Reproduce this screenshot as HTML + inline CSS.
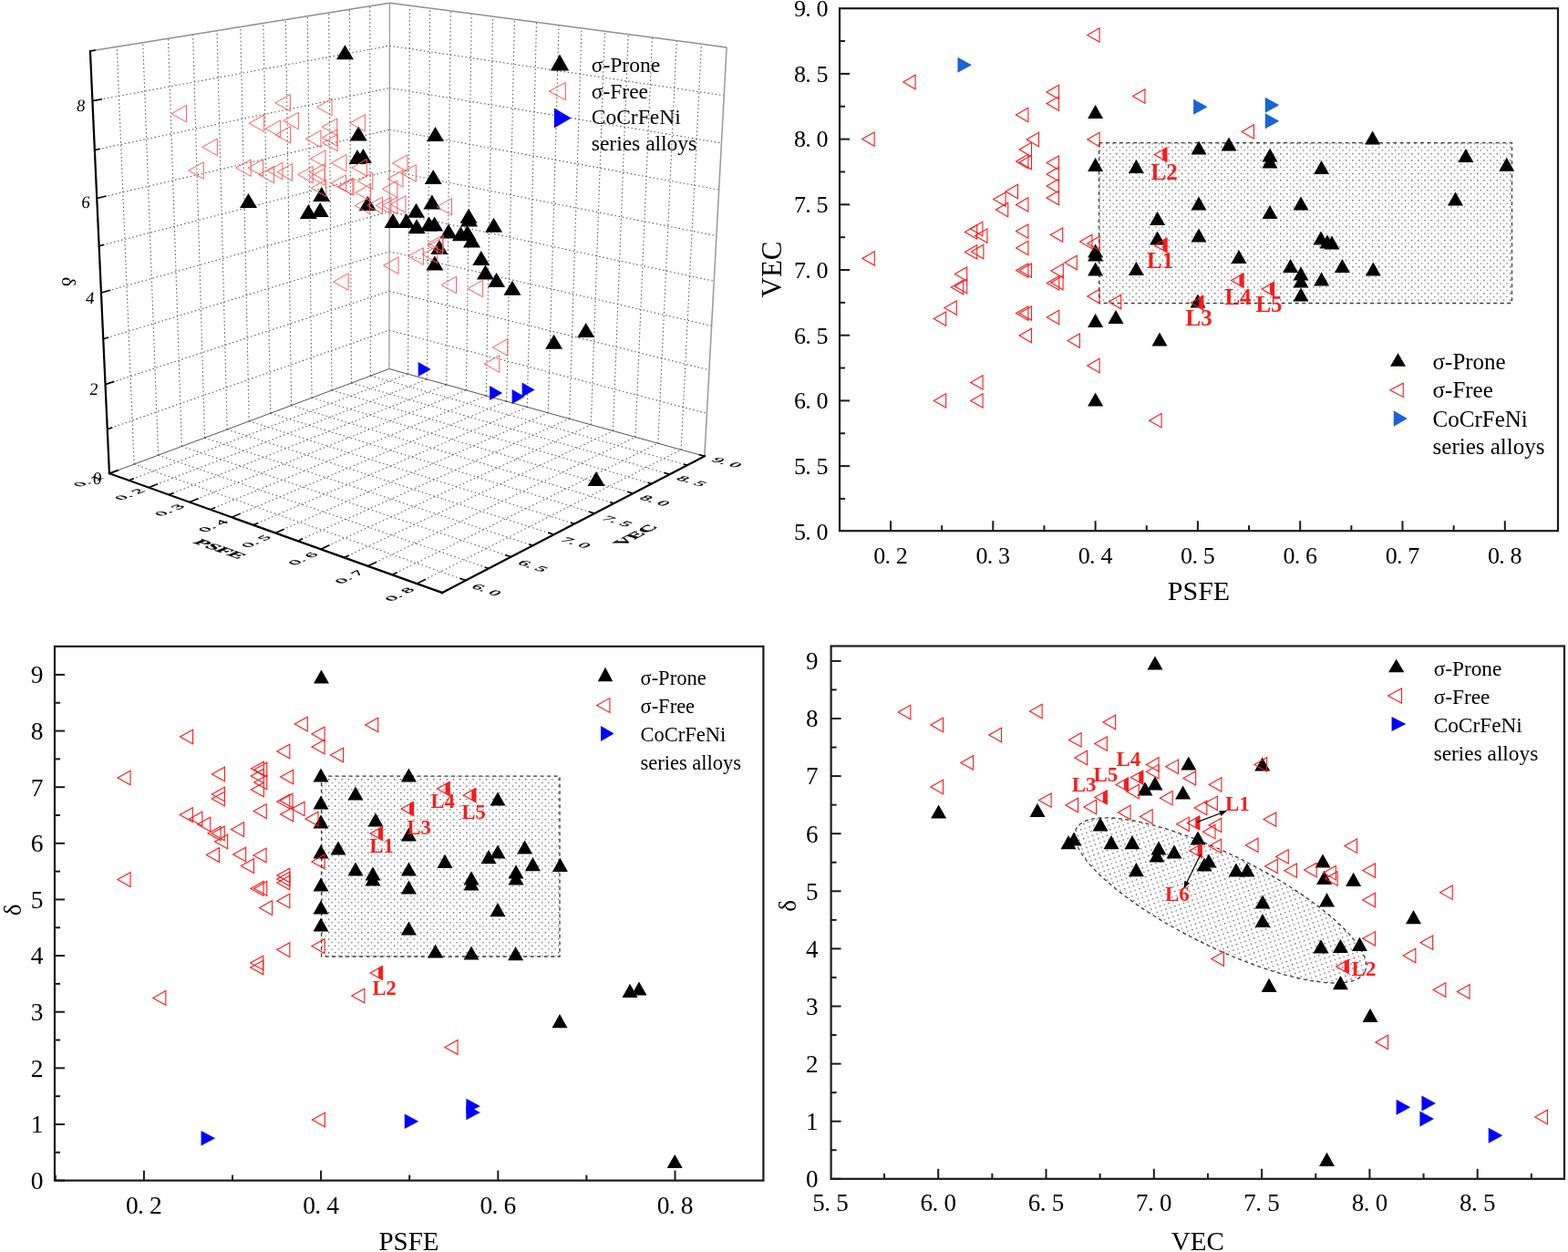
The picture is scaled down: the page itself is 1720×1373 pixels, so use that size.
<!DOCTYPE html>
<html><head><meta charset="utf-8"><title>PSFE VEC delta scatter</title>
<style>html,body{margin:0;padding:0;background:#fff;overflow:hidden;}svg{display:block;}</style>
</head><body><svg width="1720" height="1373" viewBox="0 0 1720 1373"><defs><pattern id="dots" patternUnits="userSpaceOnUse" width="7.2" height="7.3"><rect x="0" y="0" width="1.35" height="1.35" fill="#505050"/><rect x="3.6" y="3.65" width="1.35" height="1.35" fill="#707070"/></pattern><marker id="ah" viewBox="0 0 10 10" refX="9" refY="5" markerWidth="12" markerHeight="8" markerUnits="userSpaceOnUse" orient="auto"><path d="M0 1L10 5L0 9Z" fill="#000"/></marker></defs><rect x="0" y="0" width="1720" height="1373" fill="#fff"/><g><line x1="141.34" y1="526.86" x2="447.58" y2="410.24" stroke="#606060" stroke-width="1.1" stroke-dasharray="1.5 2.9" stroke-linecap="butt"/><line x1="163.09" y1="534.65" x2="468.54" y2="416.04" stroke="#606060" stroke-width="1.1" stroke-dasharray="1.5 2.9" stroke-linecap="butt"/><line x1="185.23" y1="542.58" x2="489.82" y2="421.94" stroke="#606060" stroke-width="1.1" stroke-dasharray="1.5 2.9" stroke-linecap="butt"/><line x1="207.76" y1="550.65" x2="511.43" y2="427.92" stroke="#606060" stroke-width="1.1" stroke-dasharray="1.5 2.9" stroke-linecap="butt"/><line x1="230.7" y1="558.86" x2="533.36" y2="434" stroke="#606060" stroke-width="1.1" stroke-dasharray="1.5 2.9" stroke-linecap="butt"/><line x1="254.06" y1="567.23" x2="555.64" y2="440.17" stroke="#606060" stroke-width="1.1" stroke-dasharray="1.5 2.9" stroke-linecap="butt"/><line x1="277.84" y1="575.75" x2="578.27" y2="446.43" stroke="#606060" stroke-width="1.1" stroke-dasharray="1.5 2.9" stroke-linecap="butt"/><line x1="302.07" y1="584.42" x2="601.25" y2="452.8" stroke="#606060" stroke-width="1.1" stroke-dasharray="1.5 2.9" stroke-linecap="butt"/><line x1="326.75" y1="593.26" x2="624.6" y2="459.26" stroke="#606060" stroke-width="1.1" stroke-dasharray="1.5 2.9" stroke-linecap="butt"/><line x1="351.89" y1="602.27" x2="648.32" y2="465.83" stroke="#606060" stroke-width="1.1" stroke-dasharray="1.5 2.9" stroke-linecap="butt"/><line x1="377.51" y1="611.45" x2="672.42" y2="472.51" stroke="#606060" stroke-width="1.1" stroke-dasharray="1.5 2.9" stroke-linecap="butt"/><line x1="403.63" y1="620.8" x2="696.92" y2="479.29" stroke="#606060" stroke-width="1.1" stroke-dasharray="1.5 2.9" stroke-linecap="butt"/><line x1="430.25" y1="630.33" x2="721.81" y2="486.19" stroke="#606060" stroke-width="1.1" stroke-dasharray="1.5 2.9" stroke-linecap="butt"/><line x1="457.39" y1="640.05" x2="747.12" y2="493.2" stroke="#606060" stroke-width="1.1" stroke-dasharray="1.5 2.9" stroke-linecap="butt"/><line x1="147.08" y1="509.07" x2="510.98" y2="636.5" stroke="#606060" stroke-width="1.1" stroke-dasharray="1.5 2.9" stroke-linecap="butt"/><line x1="173.54" y1="499.18" x2="536.17" y2="623.4" stroke="#606060" stroke-width="1.1" stroke-dasharray="1.5 2.9" stroke-linecap="butt"/><line x1="199.36" y1="489.54" x2="560.65" y2="610.67" stroke="#606060" stroke-width="1.1" stroke-dasharray="1.5 2.9" stroke-linecap="butt"/><line x1="224.56" y1="480.12" x2="584.47" y2="598.28" stroke="#606060" stroke-width="1.1" stroke-dasharray="1.5 2.9" stroke-linecap="butt"/><line x1="249.17" y1="470.93" x2="607.66" y2="586.23" stroke="#606060" stroke-width="1.1" stroke-dasharray="1.5 2.9" stroke-linecap="butt"/><line x1="273.2" y1="461.95" x2="630.22" y2="574.49" stroke="#606060" stroke-width="1.1" stroke-dasharray="1.5 2.9" stroke-linecap="butt"/><line x1="296.68" y1="453.18" x2="652.2" y2="563.07" stroke="#606060" stroke-width="1.1" stroke-dasharray="1.5 2.9" stroke-linecap="butt"/><line x1="319.63" y1="444.6" x2="673.6" y2="551.93" stroke="#606060" stroke-width="1.1" stroke-dasharray="1.5 2.9" stroke-linecap="butt"/><line x1="342.06" y1="436.23" x2="694.47" y2="541.09" stroke="#606060" stroke-width="1.1" stroke-dasharray="1.5 2.9" stroke-linecap="butt"/><line x1="363.98" y1="428.03" x2="714.8" y2="530.51" stroke="#606060" stroke-width="1.1" stroke-dasharray="1.5 2.9" stroke-linecap="butt"/><line x1="385.43" y1="420.02" x2="734.63" y2="520.2" stroke="#606060" stroke-width="1.1" stroke-dasharray="1.5 2.9" stroke-linecap="butt"/><line x1="406.4" y1="412.19" x2="753.98" y2="510.14" stroke="#606060" stroke-width="1.1" stroke-dasharray="1.5 2.9" stroke-linecap="butt"/><line x1="147.08" y1="509.07" x2="128.22" y2="51.26" stroke="#5a5a5a" stroke-width="1.1" stroke-dasharray="1.5 2.7" stroke-linecap="butt"/><line x1="173.54" y1="499.18" x2="156.74" y2="46.68" stroke="#5a5a5a" stroke-width="1.1" stroke-dasharray="1.5 2.7" stroke-linecap="butt"/><line x1="199.36" y1="489.54" x2="184.53" y2="42.22" stroke="#5a5a5a" stroke-width="1.1" stroke-dasharray="1.5 2.7" stroke-linecap="butt"/><line x1="224.56" y1="480.12" x2="211.62" y2="37.87" stroke="#5a5a5a" stroke-width="1.1" stroke-dasharray="1.5 2.7" stroke-linecap="butt"/><line x1="249.17" y1="470.93" x2="238.02" y2="33.64" stroke="#5a5a5a" stroke-width="1.1" stroke-dasharray="1.5 2.7" stroke-linecap="butt"/><line x1="273.2" y1="461.95" x2="263.76" y2="29.5" stroke="#5a5a5a" stroke-width="1.1" stroke-dasharray="1.5 2.7" stroke-linecap="butt"/><line x1="296.68" y1="453.18" x2="288.87" y2="25.47" stroke="#5a5a5a" stroke-width="1.1" stroke-dasharray="1.5 2.7" stroke-linecap="butt"/><line x1="319.63" y1="444.6" x2="313.38" y2="21.54" stroke="#5a5a5a" stroke-width="1.1" stroke-dasharray="1.5 2.7" stroke-linecap="butt"/><line x1="342.06" y1="436.23" x2="337.29" y2="17.7" stroke="#5a5a5a" stroke-width="1.1" stroke-dasharray="1.5 2.7" stroke-linecap="butt"/><line x1="363.98" y1="428.03" x2="360.64" y2="13.95" stroke="#5a5a5a" stroke-width="1.1" stroke-dasharray="1.5 2.7" stroke-linecap="butt"/><line x1="385.43" y1="420.02" x2="383.45" y2="10.29" stroke="#5a5a5a" stroke-width="1.1" stroke-dasharray="1.5 2.7" stroke-linecap="butt"/><line x1="406.4" y1="412.19" x2="405.72" y2="6.72" stroke="#5a5a5a" stroke-width="1.1" stroke-dasharray="1.5 2.7" stroke-linecap="butt"/><line x1="117.76" y1="470.77" x2="426.99" y2="362.19" stroke="#5a5a5a" stroke-width="1.1" stroke-dasharray="1.5 2.7" stroke-linecap="butt"/><line x1="115.53" y1="421.62" x2="427.05" y2="319.33" stroke="#5a5a5a" stroke-width="1.1" stroke-dasharray="1.5 2.7" stroke-linecap="butt"/><line x1="113.26" y1="371.73" x2="427.11" y2="275.91" stroke="#5a5a5a" stroke-width="1.1" stroke-dasharray="1.5 2.7" stroke-linecap="butt"/><line x1="110.96" y1="321.09" x2="427.17" y2="231.93" stroke="#5a5a5a" stroke-width="1.1" stroke-dasharray="1.5 2.7" stroke-linecap="butt"/><line x1="108.63" y1="269.68" x2="427.23" y2="187.38" stroke="#5a5a5a" stroke-width="1.1" stroke-dasharray="1.5 2.7" stroke-linecap="butt"/><line x1="106.26" y1="217.48" x2="427.3" y2="142.25" stroke="#5a5a5a" stroke-width="1.1" stroke-dasharray="1.5 2.7" stroke-linecap="butt"/><line x1="103.85" y1="164.47" x2="427.36" y2="96.52" stroke="#5a5a5a" stroke-width="1.1" stroke-dasharray="1.5 2.7" stroke-linecap="butt"/><line x1="101.41" y1="110.64" x2="427.43" y2="50.18" stroke="#5a5a5a" stroke-width="1.1" stroke-dasharray="1.5 2.7" stroke-linecap="butt"/><line x1="447.58" y1="410.24" x2="449.4" y2="6.11" stroke="#5a5a5a" stroke-width="1.1" stroke-dasharray="1.5 2.7" stroke-linecap="butt"/><line x1="468.54" y1="416.04" x2="471.66" y2="9.05" stroke="#5a5a5a" stroke-width="1.1" stroke-dasharray="1.5 2.7" stroke-linecap="butt"/><line x1="489.82" y1="421.94" x2="494.27" y2="12.03" stroke="#5a5a5a" stroke-width="1.1" stroke-dasharray="1.5 2.7" stroke-linecap="butt"/><line x1="511.43" y1="427.92" x2="517.26" y2="15.06" stroke="#5a5a5a" stroke-width="1.1" stroke-dasharray="1.5 2.7" stroke-linecap="butt"/><line x1="533.36" y1="434" x2="540.61" y2="18.14" stroke="#5a5a5a" stroke-width="1.1" stroke-dasharray="1.5 2.7" stroke-linecap="butt"/><line x1="555.64" y1="440.17" x2="564.36" y2="21.27" stroke="#5a5a5a" stroke-width="1.1" stroke-dasharray="1.5 2.7" stroke-linecap="butt"/><line x1="578.27" y1="446.43" x2="588.5" y2="24.45" stroke="#5a5a5a" stroke-width="1.1" stroke-dasharray="1.5 2.7" stroke-linecap="butt"/><line x1="601.25" y1="452.8" x2="613.04" y2="27.69" stroke="#5a5a5a" stroke-width="1.1" stroke-dasharray="1.5 2.7" stroke-linecap="butt"/><line x1="624.6" y1="459.26" x2="638" y2="30.98" stroke="#5a5a5a" stroke-width="1.1" stroke-dasharray="1.5 2.7" stroke-linecap="butt"/><line x1="648.32" y1="465.83" x2="663.38" y2="34.33" stroke="#5a5a5a" stroke-width="1.1" stroke-dasharray="1.5 2.7" stroke-linecap="butt"/><line x1="672.42" y1="472.51" x2="689.2" y2="37.73" stroke="#5a5a5a" stroke-width="1.1" stroke-dasharray="1.5 2.7" stroke-linecap="butt"/><line x1="696.92" y1="479.29" x2="715.47" y2="41.2" stroke="#5a5a5a" stroke-width="1.1" stroke-dasharray="1.5 2.7" stroke-linecap="butt"/><line x1="721.81" y1="486.19" x2="742.2" y2="44.72" stroke="#5a5a5a" stroke-width="1.1" stroke-dasharray="1.5 2.7" stroke-linecap="butt"/><line x1="747.12" y1="493.2" x2="769.4" y2="48.31" stroke="#5a5a5a" stroke-width="1.1" stroke-dasharray="1.5 2.7" stroke-linecap="butt"/><line x1="426.99" y1="362.19" x2="775.39" y2="453.35" stroke="#5a5a5a" stroke-width="1.1" stroke-dasharray="1.5 2.7" stroke-linecap="butt"/><line x1="427.05" y1="319.33" x2="777.97" y2="405.71" stroke="#5a5a5a" stroke-width="1.1" stroke-dasharray="1.5 2.7" stroke-linecap="butt"/><line x1="427.11" y1="275.91" x2="780.58" y2="357.37" stroke="#5a5a5a" stroke-width="1.1" stroke-dasharray="1.5 2.7" stroke-linecap="butt"/><line x1="427.17" y1="231.93" x2="783.23" y2="308.33" stroke="#5a5a5a" stroke-width="1.1" stroke-dasharray="1.5 2.7" stroke-linecap="butt"/><line x1="427.23" y1="187.38" x2="785.92" y2="258.56" stroke="#5a5a5a" stroke-width="1.1" stroke-dasharray="1.5 2.7" stroke-linecap="butt"/><line x1="427.3" y1="142.25" x2="788.65" y2="208.06" stroke="#5a5a5a" stroke-width="1.1" stroke-dasharray="1.5 2.7" stroke-linecap="butt"/><line x1="427.36" y1="96.52" x2="791.42" y2="156.8" stroke="#5a5a5a" stroke-width="1.1" stroke-dasharray="1.5 2.7" stroke-linecap="butt"/><line x1="427.43" y1="50.18" x2="794.23" y2="104.77" stroke="#5a5a5a" stroke-width="1.1" stroke-dasharray="1.5 2.7" stroke-linecap="butt"/></g><g><line x1="426.93" y1="404.52" x2="427.49" y2="3.22" stroke="#9a9a9a" stroke-width="1.3" stroke-linecap="butt"/><line x1="98.93" y1="55.96" x2="427.49" y2="3.22" stroke="#8f8f8f" stroke-width="1.4" stroke-linecap="butt"/><line x1="427.49" y1="3.22" x2="797.08" y2="51.96" stroke="#8f8f8f" stroke-width="1.5" stroke-linecap="butt"/><line x1="772.85" y1="500.32" x2="797.08" y2="51.96" stroke="#999" stroke-width="1.5" stroke-linecap="butt"/><line x1="119.96" y1="519.2" x2="426.93" y2="404.52" stroke="#555" stroke-width="1" stroke-linecap="butt"/><line x1="426.93" y1="404.52" x2="772.85" y2="500.32" stroke="#555" stroke-width="1" stroke-linecap="butt"/><line x1="119.96" y1="519.2" x2="485.08" y2="649.97" stroke="#000" stroke-width="2.2" stroke-linecap="square"/><line x1="485.08" y1="649.97" x2="772.85" y2="500.32" stroke="#000" stroke-width="2.2" stroke-linecap="square"/><line x1="119.96" y1="519.2" x2="98.93" y2="55.96" stroke="#000" stroke-width="2.2" stroke-linecap="square"/><line x1="119.96" y1="519.2" x2="129.8" y2="515.52" stroke="#000" stroke-width="1.6" stroke-linecap="butt"/><line x1="141.34" y1="526.86" x2="146.81" y2="524.77" stroke="#000" stroke-width="1.6" stroke-linecap="butt"/><line x1="163.09" y1="534.65" x2="172.91" y2="530.84" stroke="#000" stroke-width="1.6" stroke-linecap="butt"/><line x1="185.23" y1="542.58" x2="190.68" y2="540.42" stroke="#000" stroke-width="1.6" stroke-linecap="butt"/><line x1="207.76" y1="550.65" x2="217.55" y2="546.69" stroke="#000" stroke-width="1.6" stroke-linecap="butt"/><line x1="230.7" y1="558.86" x2="236.14" y2="556.62" stroke="#000" stroke-width="1.6" stroke-linecap="butt"/><line x1="254.06" y1="567.23" x2="263.8" y2="563.12" stroke="#000" stroke-width="1.6" stroke-linecap="butt"/><line x1="277.84" y1="575.75" x2="283.25" y2="573.42" stroke="#000" stroke-width="1.6" stroke-linecap="butt"/><line x1="302.07" y1="584.42" x2="311.76" y2="580.16" stroke="#000" stroke-width="1.6" stroke-linecap="butt"/><line x1="326.75" y1="593.26" x2="332.13" y2="590.84" stroke="#000" stroke-width="1.6" stroke-linecap="butt"/><line x1="351.89" y1="602.27" x2="361.52" y2="597.84" stroke="#000" stroke-width="1.6" stroke-linecap="butt"/><line x1="377.51" y1="611.45" x2="382.85" y2="608.93" stroke="#000" stroke-width="1.6" stroke-linecap="butt"/><line x1="403.63" y1="620.8" x2="413.18" y2="616.19" stroke="#000" stroke-width="1.6" stroke-linecap="butt"/><line x1="430.25" y1="630.33" x2="435.55" y2="627.72" stroke="#000" stroke-width="1.6" stroke-linecap="butt"/><line x1="457.39" y1="640.05" x2="466.86" y2="635.26" stroke="#000" stroke-width="1.6" stroke-linecap="butt"/><line x1="485.08" y1="649.97" x2="490.32" y2="647.24" stroke="#000" stroke-width="1.6" stroke-linecap="butt"/><line x1="485.08" y1="649.97" x2="480.61" y2="648.37" stroke="#000" stroke-width="1.6" stroke-linecap="butt"/><line x1="510.98" y1="636.5" x2="504.32" y2="634.16" stroke="#000" stroke-width="1.6" stroke-linecap="butt"/><line x1="536.17" y1="623.4" x2="531.75" y2="621.89" stroke="#000" stroke-width="1.6" stroke-linecap="butt"/><line x1="560.65" y1="610.67" x2="554.07" y2="608.46" stroke="#000" stroke-width="1.6" stroke-linecap="butt"/><line x1="584.47" y1="598.28" x2="580.1" y2="596.85" stroke="#000" stroke-width="1.6" stroke-linecap="butt"/><line x1="607.66" y1="586.23" x2="601.14" y2="584.13" stroke="#000" stroke-width="1.6" stroke-linecap="butt"/><line x1="630.22" y1="574.49" x2="625.9" y2="573.13" stroke="#000" stroke-width="1.6" stroke-linecap="butt"/><line x1="652.2" y1="563.07" x2="645.76" y2="561.07" stroke="#000" stroke-width="1.6" stroke-linecap="butt"/><line x1="673.6" y1="551.93" x2="669.33" y2="550.64" stroke="#000" stroke-width="1.6" stroke-linecap="butt"/><line x1="694.47" y1="541.09" x2="688.1" y2="539.19" stroke="#000" stroke-width="1.6" stroke-linecap="butt"/><line x1="714.8" y1="530.51" x2="710.58" y2="529.28" stroke="#000" stroke-width="1.6" stroke-linecap="butt"/><line x1="734.63" y1="520.2" x2="728.34" y2="518.39" stroke="#000" stroke-width="1.6" stroke-linecap="butt"/><line x1="753.98" y1="510.14" x2="749.81" y2="508.96" stroke="#000" stroke-width="1.6" stroke-linecap="butt"/><line x1="772.85" y1="500.32" x2="766.64" y2="498.6" stroke="#000" stroke-width="1.6" stroke-linecap="butt"/><line x1="119.96" y1="519.2" x2="129.8" y2="515.52" stroke="#000" stroke-width="1.6" stroke-linecap="butt"/><line x1="117.76" y1="470.77" x2="123.28" y2="468.83" stroke="#000" stroke-width="1.6" stroke-linecap="butt"/><line x1="115.53" y1="421.62" x2="125.53" y2="418.33" stroke="#000" stroke-width="1.6" stroke-linecap="butt"/><line x1="113.26" y1="371.73" x2="118.88" y2="370.02" stroke="#000" stroke-width="1.6" stroke-linecap="butt"/><line x1="110.96" y1="321.09" x2="121.14" y2="318.22" stroke="#000" stroke-width="1.6" stroke-linecap="butt"/><line x1="108.63" y1="269.68" x2="114.34" y2="268.2" stroke="#000" stroke-width="1.6" stroke-linecap="butt"/><line x1="106.26" y1="217.48" x2="116.62" y2="215.05" stroke="#000" stroke-width="1.6" stroke-linecap="butt"/><line x1="103.85" y1="164.47" x2="109.67" y2="163.25" stroke="#000" stroke-width="1.6" stroke-linecap="butt"/><line x1="101.41" y1="110.64" x2="111.95" y2="108.69" stroke="#000" stroke-width="1.6" stroke-linecap="butt"/><line x1="98.93" y1="55.96" x2="104.85" y2="55.01" stroke="#000" stroke-width="1.6" stroke-linecap="butt"/></g><g><text transform="matrix(0.9322 -0.3620 0.6402 0.2293 146.87 543.56)" x="-15.02 -5.26 4.49" y="0" font-family="'Liberation Serif','Times New Roman',serif" font-size="19.5" font-weight="normal" text-anchor="start" fill="#000" stroke="#000" stroke-width="0.5">0.2</text><text transform="matrix(0.9271 -0.3747 0.6402 0.2293 190.37 560.86)" x="-15.02 -5.26 4.49" y="0" font-family="'Liberation Serif','Times New Roman',serif" font-size="19.5" font-weight="normal" text-anchor="start" fill="#000" stroke="#000" stroke-width="0.5">0.3</text><text transform="matrix(0.9215 -0.3883 0.6402 0.2293 238.37 578.06)" x="-15.02 -5.26 4.49" y="0" font-family="'Liberation Serif','Times New Roman',serif" font-size="19.5" font-weight="normal" text-anchor="start" fill="#000" stroke="#000" stroke-width="0.5">0.4</text><text transform="matrix(0.9153 -0.4027 0.6402 0.2293 285.37 595.06)" x="-15.02 -5.26 4.49" y="0" font-family="'Liberation Serif','Times New Roman',serif" font-size="19.5" font-weight="normal" text-anchor="start" fill="#000" stroke="#000" stroke-width="0.5">0.5</text><text transform="matrix(0.9084 -0.4181 0.6402 0.2293 336.87 614.06)" x="-15.02 -5.26 4.49" y="0" font-family="'Liberation Serif','Times New Roman',serif" font-size="19.5" font-weight="normal" text-anchor="start" fill="#000" stroke="#000" stroke-width="0.5">0.6</text><text transform="matrix(0.9006 -0.4345 0.6402 0.2293 387.67 634.06)" x="-15.02 -5.26 4.49" y="0" font-family="'Liberation Serif','Times New Roman',serif" font-size="19.5" font-weight="normal" text-anchor="start" fill="#000" stroke="#000" stroke-width="0.5">0.7</text><text transform="matrix(0.8920 -0.4521 0.6402 0.2293 442.67 653.06)" x="-15.02 -5.26 4.49" y="0" font-family="'Liberation Serif','Times New Roman',serif" font-size="19.5" font-weight="normal" text-anchor="start" fill="#000" stroke="#000" stroke-width="0.5">0.8</text><text transform="matrix(0.9368 -0.3500 0.6402 0.2293 101.37 529.06)" x="-15.02 -5.26 4.49" y="0" font-family="'Liberation Serif','Times New Roman',serif" font-size="19.5" font-weight="normal" text-anchor="start" fill="#000" stroke="#000" stroke-width="0.5">0.1</text><text transform="matrix(0.9414 0.3372 -0.6933 0.2860 236.27 603.98)" x="0" y="0" font-family="'Liberation Serif','Times New Roman',serif" font-size="22" font-weight="bold" text-anchor="middle" fill="#000" stroke="#000" stroke-width="0.5">PSFE</text><text transform="matrix(0.9438 0.3305 -0.6033 0.3137 530.18 649.04)" x="-15.02 -5.26 4.49" y="0" font-family="'Liberation Serif','Times New Roman',serif" font-size="19.5" font-weight="normal" text-anchor="start" fill="#000" stroke="#000" stroke-width="0.5">6.0</text><text transform="matrix(0.9481 0.3179 -0.6033 0.3137 581.08 622.84)" x="-15.02 -5.26 4.49" y="0" font-family="'Liberation Serif','Times New Roman',serif" font-size="19.5" font-weight="normal" text-anchor="start" fill="#000" stroke="#000" stroke-width="0.5">6.5</text><text transform="matrix(0.9520 0.3062 -0.6033 0.3137 628.18 597.24)" x="-15.02 -5.26 4.49" y="0" font-family="'Liberation Serif','Times New Roman',serif" font-size="19.5" font-weight="normal" text-anchor="start" fill="#000" stroke="#000" stroke-width="0.5">7.0</text><text transform="matrix(0.9554 0.2953 -0.6033 0.3137 673.68 573.64)" x="-15.02 -5.26 4.49" y="0" font-family="'Liberation Serif','Times New Roman',serif" font-size="19.5" font-weight="normal" text-anchor="start" fill="#000" stroke="#000" stroke-width="0.5">7.5</text><text transform="matrix(0.9585 0.2852 -0.6033 0.3137 714.98 551.14)" x="-15.02 -5.26 4.49" y="0" font-family="'Liberation Serif','Times New Roman',serif" font-size="19.5" font-weight="normal" text-anchor="start" fill="#000" stroke="#000" stroke-width="0.5">8.0</text><text transform="matrix(0.9612 0.2757 -0.6033 0.3137 755.28 529.74)" x="-15.02 -5.26 4.49" y="0" font-family="'Liberation Serif','Times New Roman',serif" font-size="19.5" font-weight="normal" text-anchor="start" fill="#000" stroke="#000" stroke-width="0.5">8.5</text><text transform="matrix(0.9637 0.2669 -0.6033 0.3137 793.88 509.34)" x="-15.02 -5.26 4.49" y="0" font-family="'Liberation Serif','Times New Roman',serif" font-size="19.5" font-weight="normal" text-anchor="start" fill="#000" stroke="#000" stroke-width="0.5">9.0</text><text transform="matrix(0.8872 -0.4614 0.7648 0.2346 702.43 588.36)" x="0" y="0" font-family="'Liberation Serif','Times New Roman',serif" font-size="21.5" font-weight="bold" text-anchor="middle" fill="#000" stroke="#000" stroke-width="0.5">VEC</text></g><text transform="translate(102.5 433.2) skewX(-6)" font-family="'Liberation Serif','Times New Roman',serif" font-size="19" fill="#000" text-anchor="middle">2</text><text transform="translate(98.3 332.9) skewX(-6)" font-family="'Liberation Serif','Times New Roman',serif" font-size="19" fill="#000" text-anchor="middle">4</text><text transform="translate(93.5 228.4) skewX(-6)" font-family="'Liberation Serif','Times New Roman',serif" font-size="19" fill="#000" text-anchor="middle">6</text><text transform="translate(88.3 121.9) skewX(-6)" font-family="'Liberation Serif','Times New Roman',serif" font-size="19" fill="#000" text-anchor="middle">8</text><text transform="translate(106.4 531) skewX(-4)" font-family="'Liberation Serif','Times New Roman',serif" font-size="19.5" fill="#000" text-anchor="middle">0</text><text transform="translate(75 309) rotate(90)" font-family="'Liberation Serif','Times New Roman',serif" font-size="22" fill="#000" text-anchor="middle" dy="7">&#948;</text><g><path d="M368.9 65.3L378.4 49.3L387.9 65.3Z" fill="#000"/><path d="M383.7 154.6L393.2 138.6L402.7 154.6Z" fill="#000"/><path d="M382.5 180L392 164L401.5 180Z" fill="#000"/><path d="M388.9 179L398.4 163L407.9 179Z" fill="#000"/><path d="M468 155L477.5 139L487 155Z" fill="#000"/><path d="M343.2 220.9L352.7 204.9L362.2 220.9Z" fill="#000"/><path d="M263 228L272.5 212L282 228Z" fill="#000"/><path d="M328.8 240L338.3 224L347.8 240Z" fill="#000"/><path d="M341.7 238L351.2 222L360.7 238Z" fill="#000"/><path d="M393.8 231L403.3 215L412.8 231Z" fill="#000"/><path d="M465.7 201.9L475.2 185.9L484.7 201.9Z" fill="#000"/><path d="M464.4 229.4L473.9 213.4L483.4 229.4Z" fill="#000"/><path d="M421.5 250.1L431 234.1L440.5 250.1Z" fill="#000"/><path d="M436.2 250.1L445.7 234.1L455.2 250.1Z" fill="#000"/><path d="M447 238.8L456.5 222.8L466 238.8Z" fill="#000"/><path d="M447.6 256.2L457.1 240.2L466.6 256.2Z" fill="#000"/><path d="M461 253.5L470.5 237.5L480 253.5Z" fill="#000"/><path d="M467.1 253.5L476.6 237.5L486.1 253.5Z" fill="#000"/><path d="M504.6 244.8L514.1 228.8L523.6 244.8Z" fill="#000"/><path d="M482.5 261.5L492 245.5L501.5 261.5Z" fill="#000"/><path d="M495.9 264.2L505.4 248.2L514.9 264.2Z" fill="#000"/><path d="M503.3 262.9L512.8 246.9L522.3 262.9Z" fill="#000"/><path d="M508 271.6L517.5 255.6L527 271.6Z" fill="#000"/><path d="M532.1 254.8L541.6 238.8L551.1 254.8Z" fill="#000"/><path d="M505 248.5L514.5 232.5L524 248.5Z" fill="#000"/><path d="M472.4 279L481.9 263L491.4 279Z" fill="#000"/><path d="M467.4 296.4L476.9 280.4L486.4 296.4Z" fill="#000"/><path d="M518.3 291L527.8 275L537.3 291Z" fill="#000"/><path d="M523 306.4L532.5 290.4L542 306.4Z" fill="#000"/><path d="M535.1 315.1L544.6 299.1L554.1 315.1Z" fill="#000"/><path d="M552.5 323.8L562 307.8L571.5 323.8Z" fill="#000"/><path d="M598.1 382.8L607.6 366.8L617.1 382.8Z" fill="#000"/><path d="M633.2 370.1L642.7 354.1L652.2 370.1Z" fill="#000"/><path d="M644.5 533L654 517L663.5 533Z" fill="#000"/><path d="M188.05 124.7L204.55 115.45L204.55 133.95Z" fill="none" stroke="#ff5c5c" stroke-width="1" stroke-linejoin="miter"/><path d="M301.85 112.8L318.35 103.55L318.35 122.05Z" fill="none" stroke="#ff5c5c" stroke-width="1" stroke-linejoin="miter"/><path d="M347.55 117.5L364.05 108.25L364.05 126.75Z" fill="none" stroke="#ff5c5c" stroke-width="1" stroke-linejoin="miter"/><path d="M221.85 161.3L238.35 152.05L238.35 170.55Z" fill="none" stroke="#ff5c5c" stroke-width="1" stroke-linejoin="miter"/><path d="M273.15 135.2L289.65 125.95L289.65 144.45Z" fill="none" stroke="#ff5c5c" stroke-width="1" stroke-linejoin="miter"/><path d="M291.15 141.2L307.65 131.95L307.65 150.45Z" fill="none" stroke="#ff5c5c" stroke-width="1" stroke-linejoin="miter"/><path d="M310.85 132.5L327.35 123.25L327.35 141.75Z" fill="none" stroke="#ff5c5c" stroke-width="1" stroke-linejoin="miter"/><path d="M302.05 147.9L318.55 138.65L318.55 157.15Z" fill="none" stroke="#ff5c5c" stroke-width="1" stroke-linejoin="miter"/><path d="M353.25 139.2L369.75 129.95L369.75 148.45Z" fill="none" stroke="#ff5c5c" stroke-width="1" stroke-linejoin="miter"/><path d="M335.45 152.3L351.95 143.05L351.95 161.55Z" fill="none" stroke="#ff5c5c" stroke-width="1" stroke-linejoin="miter"/><path d="M353.35 151L369.85 141.75L369.85 160.25Z" fill="none" stroke="#ff5c5c" stroke-width="1" stroke-linejoin="miter"/><path d="M353.75 156.6L370.25 147.35L370.25 165.85Z" fill="none" stroke="#ff5c5c" stroke-width="1" stroke-linejoin="miter"/><path d="M206.75 187L223.25 177.75L223.25 196.25Z" fill="none" stroke="#ff5c5c" stroke-width="1" stroke-linejoin="miter"/><path d="M258.75 184.1L275.25 174.85L275.25 193.35Z" fill="none" stroke="#ff5c5c" stroke-width="1" stroke-linejoin="miter"/><path d="M272.05 184.1L288.55 174.85L288.55 193.35Z" fill="none" stroke="#ff5c5c" stroke-width="1" stroke-linejoin="miter"/><path d="M284.05 191.5L300.55 182.25L300.55 200.75Z" fill="none" stroke="#ff5c5c" stroke-width="1" stroke-linejoin="miter"/><path d="M293.45 187.5L309.95 178.25L309.95 196.75Z" fill="none" stroke="#ff5c5c" stroke-width="1" stroke-linejoin="miter"/><path d="M303.95 188.8L320.45 179.55L320.45 198.05Z" fill="none" stroke="#ff5c5c" stroke-width="1" stroke-linejoin="miter"/><path d="M326.75 191.5L343.25 182.25L343.25 200.75Z" fill="none" stroke="#ff5c5c" stroke-width="1" stroke-linejoin="miter"/><path d="M340.55 174L357.05 164.75L357.05 183.25Z" fill="none" stroke="#ff5c5c" stroke-width="1" stroke-linejoin="miter"/><path d="M339.75 188.8L356.25 179.55L356.25 198.05Z" fill="none" stroke="#ff5c5c" stroke-width="1" stroke-linejoin="miter"/><path d="M339.75 194L356.25 184.75L356.25 203.25Z" fill="none" stroke="#ff5c5c" stroke-width="1" stroke-linejoin="miter"/><path d="M363.45 178.7L379.95 169.45L379.95 187.95Z" fill="none" stroke="#ff5c5c" stroke-width="1" stroke-linejoin="miter"/><path d="M363.15 200.9L379.65 191.65L379.65 210.15Z" fill="none" stroke="#ff5c5c" stroke-width="1" stroke-linejoin="miter"/><path d="M371.55 204.9L388.05 195.65L388.05 214.15Z" fill="none" stroke="#ff5c5c" stroke-width="1" stroke-linejoin="miter"/><path d="M341.35 206.2L357.85 196.95L357.85 215.45Z" fill="none" stroke="#ff5c5c" stroke-width="1" stroke-linejoin="miter"/><path d="M383.85 134.9L400.35 125.65L400.35 144.15Z" fill="none" stroke="#ff5c5c" stroke-width="1" stroke-linejoin="miter"/><path d="M430.45 179.1L446.95 169.85L446.95 188.35Z" fill="none" stroke="#ff5c5c" stroke-width="1" stroke-linejoin="miter"/><path d="M439.85 189.9L456.35 180.65L456.35 199.15Z" fill="none" stroke="#ff5c5c" stroke-width="1" stroke-linejoin="miter"/><path d="M425.45 195.9L441.95 186.65L441.95 205.15Z" fill="none" stroke="#ff5c5c" stroke-width="1" stroke-linejoin="miter"/><path d="M419.35 207.3L435.85 198.05L435.85 216.55Z" fill="none" stroke="#ff5c5c" stroke-width="1" stroke-linejoin="miter"/><path d="M385.85 183.8L402.35 174.55L402.35 193.05Z" fill="none" stroke="#ff5c5c" stroke-width="1" stroke-linejoin="miter"/><path d="M392.25 198.6L408.75 189.35L408.75 207.85Z" fill="none" stroke="#ff5c5c" stroke-width="1" stroke-linejoin="miter"/><path d="M370.45 204.6L386.95 195.35L386.95 213.85Z" fill="none" stroke="#ff5c5c" stroke-width="1" stroke-linejoin="miter"/><path d="M389.85 211.3L406.35 202.05L406.35 220.55Z" fill="none" stroke="#ff5c5c" stroke-width="1" stroke-linejoin="miter"/><path d="M389.25 225.4L405.75 216.15L405.75 234.65Z" fill="none" stroke="#ff5c5c" stroke-width="1" stroke-linejoin="miter"/><path d="M402.95 225.4L419.45 216.15L419.45 234.65Z" fill="none" stroke="#ff5c5c" stroke-width="1" stroke-linejoin="miter"/><path d="M412.45 225.4L428.95 216.15L428.95 234.65Z" fill="none" stroke="#ff5c5c" stroke-width="1" stroke-linejoin="miter"/><path d="M419.35 225.4L435.85 216.15L435.85 234.65Z" fill="none" stroke="#ff5c5c" stroke-width="1" stroke-linejoin="miter"/><path d="M428.45 224L444.95 214.75L444.95 233.25Z" fill="none" stroke="#ff5c5c" stroke-width="1" stroke-linejoin="miter"/><path d="M479.05 226.7L495.55 217.45L495.55 235.95Z" fill="none" stroke="#ff5c5c" stroke-width="1" stroke-linejoin="miter"/><path d="M469.65 266.9L486.15 257.65L486.15 276.15Z" fill="none" stroke="#ff5c5c" stroke-width="1" stroke-linejoin="miter"/><path d="M447.85 281L464.35 271.75L464.35 290.25Z" fill="none" stroke="#ff5c5c" stroke-width="1" stroke-linejoin="miter"/><path d="M468.95 269.6L485.45 260.35L485.45 278.85Z" fill="none" stroke="#ff5c5c" stroke-width="1" stroke-linejoin="miter"/><path d="M463.25 279L479.75 269.75L479.75 288.25Z" fill="none" stroke="#ff5c5c" stroke-width="1" stroke-linejoin="miter"/><path d="M484.05 312.5L500.55 303.25L500.55 321.75Z" fill="none" stroke="#ff5c5c" stroke-width="1" stroke-linejoin="miter"/><path d="M513.15 316.5L529.65 307.25L529.65 325.75Z" fill="none" stroke="#ff5c5c" stroke-width="1" stroke-linejoin="miter"/><path d="M540.35 380.9L556.85 371.65L556.85 390.15Z" fill="none" stroke="#ff5c5c" stroke-width="1" stroke-linejoin="miter"/><path d="M531.25 399L547.75 389.75L547.75 408.25Z" fill="none" stroke="#ff5c5c" stroke-width="1" stroke-linejoin="miter"/><path d="M365.65 309L382.15 299.75L382.15 318.25Z" fill="none" stroke="#ff5c5c" stroke-width="1" stroke-linejoin="miter"/><path d="M420.55 291.2L437.05 281.95L437.05 300.45Z" fill="none" stroke="#ff5c5c" stroke-width="1" stroke-linejoin="miter"/><path d="M458.7 397L472.7 405L458.7 413Z" fill="#0000ff"/><path d="M537.1 422.9L551.1 430.9L537.1 438.9Z" fill="#0000ff"/><path d="M561.6 426.9L575.6 434.9L561.6 442.9Z" fill="#0000ff"/><path d="M572.6 419.5L586.6 427.5L572.6 435.5Z" fill="#0000ff"/></g><path d="M603.85 77.5L614 59.5L624.15 77.5Z" fill="#000"/><path d="M602.3 100.1L620.3 90.5L620.3 109.7Z" fill="none" stroke="#ff5050" stroke-width="1" stroke-linejoin="miter"/><path d="M607.9 118.4L626.7 129.4L607.9 140.4Z" fill="#0000ff"/><text x="648.75" y="78.75" font-family="'Liberation Serif','Times New Roman',serif" font-size="23.5" font-weight="normal" fill="#000" text-anchor="start">&#963;-Prone</text><text x="648.75" y="108" font-family="'Liberation Serif','Times New Roman',serif" font-size="23.5" font-weight="normal" fill="#000" text-anchor="start">&#963;-Free</text><text x="648.75" y="136.25" font-family="'Liberation Serif','Times New Roman',serif" font-size="23.5" font-weight="normal" fill="#000" text-anchor="start">CoCrFeNi</text><text x="648.75" y="165" font-family="'Liberation Serif','Times New Roman',serif" font-size="23.5" font-weight="normal" fill="#000" text-anchor="start">series alloys</text><rect x="1205.6" y="156.7" width="452.9" height="175.8" fill="url(#dots)"/><rect x="1205.6" y="156.7" width="452.9" height="175.8" fill="none" stroke="#3a3a3a" stroke-width="1.3" stroke-dasharray="4 3.5"/><g><path d="M1193.1 129.9L1201.6 114.9L1210.1 129.9Z" fill="#000"/><path d="M1193.1 187.9L1201.6 172.9L1210.1 187.9Z" fill="#000"/><path d="M1237.9 189.9L1246.4 174.9L1254.9 189.9Z" fill="#000"/><path d="M1306.5 169.5L1315 154.5L1323.5 169.5Z" fill="#000"/><path d="M1339.5 165.5L1348 150.5L1356.5 165.5Z" fill="#000"/><path d="M1384.5 177.5L1393 162.5L1401.5 177.5Z" fill="#000"/><path d="M1384.5 184.5L1393 169.5L1401.5 184.5Z" fill="#000"/><path d="M1497.1 158.5L1505.6 143.5L1514.1 158.5Z" fill="#000"/><path d="M1441.1 191.1L1449.6 176.1L1458.1 191.1Z" fill="#000"/><path d="M1306.5 230.5L1315 215.5L1323.5 230.5Z" fill="#000"/><path d="M1418.5 230.5L1427 215.5L1435.5 230.5Z" fill="#000"/><path d="M1384.5 239.9L1393 224.9L1401.5 239.9Z" fill="#000"/><path d="M1261.1 246.9L1269.6 231.9L1278.1 246.9Z" fill="#000"/><path d="M1306.5 265.5L1315 250.5L1323.5 265.5Z" fill="#000"/><path d="M1261.1 268.5L1269.6 253.5L1278.1 268.5Z" fill="#000"/><path d="M1440.5 268.5L1449 253.5L1457.5 268.5Z" fill="#000"/><path d="M1447.5 272.5L1456 257.5L1464.5 272.5Z" fill="#000"/><path d="M1452.5 273.5L1461 258.5L1469.5 273.5Z" fill="#000"/><path d="M1599.4 177.9L1607.9 162.9L1616.4 177.9Z" fill="#000"/><path d="M1644.2 187.7L1652.7 172.7L1661.2 187.7Z" fill="#000"/><path d="M1588 225.5L1596.5 210.5L1605 225.5Z" fill="#000"/><path d="M1463.9 299.1L1472.4 284.1L1480.9 299.1Z" fill="#000"/><path d="M1497.8 302.5L1506.3 287.5L1514.8 302.5Z" fill="#000"/><path d="M1193.1 282.5L1201.6 267.5L1210.1 282.5Z" fill="#000"/><path d="M1193.1 286.5L1201.6 271.5L1210.1 286.5Z" fill="#000"/><path d="M1193.1 302.5L1201.6 287.5L1210.1 302.5Z" fill="#000"/><path d="M1237.9 301.9L1246.4 286.9L1254.9 301.9Z" fill="#000"/><path d="M1193.1 359.1L1201.6 344.1L1210.1 359.1Z" fill="#000"/><path d="M1215.5 355.1L1224 340.1L1232.5 355.1Z" fill="#000"/><path d="M1193.1 445.5L1201.6 430.5L1210.1 445.5Z" fill="#000"/><path d="M1350.5 289.1L1359 274.1L1367.5 289.1Z" fill="#000"/><path d="M1407.1 299.1L1415.6 284.1L1424.1 299.1Z" fill="#000"/><path d="M1418.5 307.5L1427 292.5L1435.5 307.5Z" fill="#000"/><path d="M1418.5 315.5L1427 300.5L1435.5 315.5Z" fill="#000"/><path d="M1418.5 330.5L1427 315.5L1435.5 330.5Z" fill="#000"/><path d="M1441.1 313.5L1449.6 298.5L1458.1 313.5Z" fill="#000"/><path d="M1263.5 379.5L1272 364.5L1280.5 379.5Z" fill="#000"/><path d="M1305.5 337.5L1314 322.5L1322.5 337.5Z" fill="#000"/><path d="M1192.7 38.4L1206.1 30.7L1206.1 46.1Z" fill="none" stroke="#ff1a1a" stroke-width="1.1" stroke-linejoin="miter"/><path d="M990.7 90L1004.1 82.3L1004.1 97.7Z" fill="none" stroke="#ff1a1a" stroke-width="1.1" stroke-linejoin="miter"/><path d="M945.7 152.6L959.1 144.9L959.1 160.3Z" fill="none" stroke="#ff1a1a" stroke-width="1.1" stroke-linejoin="miter"/><path d="M1148.1 101L1161.5 93.3L1161.5 108.7Z" fill="none" stroke="#ff1a1a" stroke-width="1.1" stroke-linejoin="miter"/><path d="M1148.1 113.6L1161.5 105.9L1161.5 121.3Z" fill="none" stroke="#ff1a1a" stroke-width="1.1" stroke-linejoin="miter"/><path d="M1242.5 105.6L1255.9 97.9L1255.9 113.3Z" fill="none" stroke="#ff1a1a" stroke-width="1.1" stroke-linejoin="miter"/><path d="M1114.5 126L1127.9 118.3L1127.9 133.7Z" fill="none" stroke="#ff1a1a" stroke-width="1.1" stroke-linejoin="miter"/><path d="M1126.1 153L1139.5 145.3L1139.5 160.7Z" fill="none" stroke="#ff1a1a" stroke-width="1.1" stroke-linejoin="miter"/><path d="M1192.7 153L1206.1 145.3L1206.1 160.7Z" fill="none" stroke="#ff1a1a" stroke-width="1.1" stroke-linejoin="miter"/><path d="M1118.1 164L1131.5 156.3L1131.5 171.7Z" fill="none" stroke="#ff1a1a" stroke-width="1.1" stroke-linejoin="miter"/><path d="M1114.5 177L1127.9 169.3L1127.9 184.7Z" fill="none" stroke="#ff1a1a" stroke-width="1.1" stroke-linejoin="miter"/><path d="M1118.1 178L1131.5 170.3L1131.5 185.7Z" fill="none" stroke="#ff1a1a" stroke-width="1.1" stroke-linejoin="miter"/><path d="M1148.1 178.6L1161.5 170.9L1161.5 186.3Z" fill="none" stroke="#ff1a1a" stroke-width="1.1" stroke-linejoin="miter"/><path d="M1148.1 191L1161.5 183.3L1161.5 198.7Z" fill="none" stroke="#ff1a1a" stroke-width="1.1" stroke-linejoin="miter"/><path d="M1148.1 204L1161.5 196.3L1161.5 211.7Z" fill="none" stroke="#ff1a1a" stroke-width="1.1" stroke-linejoin="miter"/><path d="M1148.1 217L1161.5 209.3L1161.5 224.7Z" fill="none" stroke="#ff1a1a" stroke-width="1.1" stroke-linejoin="miter"/><path d="M1103.1 210L1116.5 202.3L1116.5 217.7Z" fill="none" stroke="#ff1a1a" stroke-width="1.1" stroke-linejoin="miter"/><path d="M1089.7 218.6L1103.1 210.9L1103.1 226.3Z" fill="none" stroke="#ff1a1a" stroke-width="1.1" stroke-linejoin="miter"/><path d="M1092.3 230L1105.7 222.3L1105.7 237.7Z" fill="none" stroke="#ff1a1a" stroke-width="1.1" stroke-linejoin="miter"/><path d="M1114.5 224.4L1127.9 216.7L1127.9 232.1Z" fill="none" stroke="#ff1a1a" stroke-width="1.1" stroke-linejoin="miter"/><path d="M1058.3 254.4L1071.7 246.7L1071.7 262.1Z" fill="none" stroke="#ff1a1a" stroke-width="1.1" stroke-linejoin="miter"/><path d="M1064.5 251L1077.9 243.3L1077.9 258.7Z" fill="none" stroke="#ff1a1a" stroke-width="1.1" stroke-linejoin="miter"/><path d="M1069.5 258.6L1082.9 250.9L1082.9 266.3Z" fill="none" stroke="#ff1a1a" stroke-width="1.1" stroke-linejoin="miter"/><path d="M1114.5 253.6L1127.9 245.9L1127.9 261.3Z" fill="none" stroke="#ff1a1a" stroke-width="1.1" stroke-linejoin="miter"/><path d="M1152.3 257.6L1165.7 249.9L1165.7 265.3Z" fill="none" stroke="#ff1a1a" stroke-width="1.1" stroke-linejoin="miter"/><path d="M1184.5 265L1197.9 257.3L1197.9 272.7Z" fill="none" stroke="#ff1a1a" stroke-width="1.1" stroke-linejoin="miter"/><path d="M1192.7 267L1206.1 259.3L1206.1 274.7Z" fill="none" stroke="#ff1a1a" stroke-width="1.1" stroke-linejoin="miter"/><path d="M1362 144.4L1375.4 136.7L1375.4 152.1Z" fill="none" stroke="#ff1a1a" stroke-width="1.1" stroke-linejoin="miter"/><path d="M1058.3 276.4L1071.7 268.7L1071.7 284.1Z" fill="none" stroke="#ff1a1a" stroke-width="1.1" stroke-linejoin="miter"/><path d="M1065.5 276L1078.9 268.3L1078.9 283.7Z" fill="none" stroke="#ff1a1a" stroke-width="1.1" stroke-linejoin="miter"/><path d="M1114.5 272L1127.9 264.3L1127.9 279.7Z" fill="none" stroke="#ff1a1a" stroke-width="1.1" stroke-linejoin="miter"/><path d="M945.9 283.4L959.3 275.7L959.3 291.1Z" fill="none" stroke="#ff1a1a" stroke-width="1.1" stroke-linejoin="miter"/><path d="M1114.5 296.6L1127.9 288.9L1127.9 304.3Z" fill="none" stroke="#ff1a1a" stroke-width="1.1" stroke-linejoin="miter"/><path d="M1118.1 296.6L1131.5 288.9L1131.5 304.3Z" fill="none" stroke="#ff1a1a" stroke-width="1.1" stroke-linejoin="miter"/><path d="M1167.9 288L1181.3 280.3L1181.3 295.7Z" fill="none" stroke="#ff1a1a" stroke-width="1.1" stroke-linejoin="miter"/><path d="M1152.9 297L1166.3 289.3L1166.3 304.7Z" fill="none" stroke="#ff1a1a" stroke-width="1.1" stroke-linejoin="miter"/><path d="M1148.3 310.4L1161.7 302.7L1161.7 318.1Z" fill="none" stroke="#ff1a1a" stroke-width="1.1" stroke-linejoin="miter"/><path d="M1152.7 310L1166.1 302.3L1166.1 317.7Z" fill="none" stroke="#ff1a1a" stroke-width="1.1" stroke-linejoin="miter"/><path d="M1047.3 300.6L1060.7 292.9L1060.7 308.3Z" fill="none" stroke="#ff1a1a" stroke-width="1.1" stroke-linejoin="miter"/><path d="M1043.3 315L1056.7 307.3L1056.7 322.7Z" fill="none" stroke="#ff1a1a" stroke-width="1.1" stroke-linejoin="miter"/><path d="M1047.3 314L1060.7 306.3L1060.7 321.7Z" fill="none" stroke="#ff1a1a" stroke-width="1.1" stroke-linejoin="miter"/><path d="M1192.7 325L1206.1 317.3L1206.1 332.7Z" fill="none" stroke="#ff1a1a" stroke-width="1.1" stroke-linejoin="miter"/><path d="M1216.3 331L1229.7 323.3L1229.7 338.7Z" fill="none" stroke="#ff1a1a" stroke-width="1.1" stroke-linejoin="miter"/><path d="M1035.9 337.6L1049.3 329.9L1049.3 345.3Z" fill="none" stroke="#ff1a1a" stroke-width="1.1" stroke-linejoin="miter"/><path d="M1024.3 349.6L1037.7 341.9L1037.7 357.3Z" fill="none" stroke="#ff1a1a" stroke-width="1.1" stroke-linejoin="miter"/><path d="M1114.5 343.6L1127.9 335.9L1127.9 351.3Z" fill="none" stroke="#ff1a1a" stroke-width="1.1" stroke-linejoin="miter"/><path d="M1118.1 343.6L1131.5 335.9L1131.5 351.3Z" fill="none" stroke="#ff1a1a" stroke-width="1.1" stroke-linejoin="miter"/><path d="M1148.3 348L1161.7 340.3L1161.7 355.7Z" fill="none" stroke="#ff1a1a" stroke-width="1.1" stroke-linejoin="miter"/><path d="M1118.1 368L1131.5 360.3L1131.5 375.7Z" fill="none" stroke="#ff1a1a" stroke-width="1.1" stroke-linejoin="miter"/><path d="M1171 373.6L1184.4 365.9L1184.4 381.3Z" fill="none" stroke="#ff1a1a" stroke-width="1.1" stroke-linejoin="miter"/><path d="M1192.7 401L1206.1 393.3L1206.1 408.7Z" fill="none" stroke="#ff1a1a" stroke-width="1.1" stroke-linejoin="miter"/><path d="M1064.7 419.4L1078.1 411.7L1078.1 427.1Z" fill="none" stroke="#ff1a1a" stroke-width="1.1" stroke-linejoin="miter"/><path d="M1024.3 439.4L1037.7 431.7L1037.7 447.1Z" fill="none" stroke="#ff1a1a" stroke-width="1.1" stroke-linejoin="miter"/><path d="M1064.7 439.4L1078.1 431.7L1078.1 447.1Z" fill="none" stroke="#ff1a1a" stroke-width="1.1" stroke-linejoin="miter"/><path d="M1260.7 461.2L1274.1 453.5L1274.1 468.9Z" fill="none" stroke="#ff1a1a" stroke-width="1.1" stroke-linejoin="miter"/><path d="M1050.45 62.7L1065.95 71.2L1050.45 79.7Z" fill="#1a63d8"/><path d="M1309.15 108.8L1324.65 117.3L1309.15 125.8Z" fill="#1a63d8"/><path d="M1387.75 106.8L1403.25 115.3L1387.75 123.8Z" fill="#1a63d8"/><path d="M1387.75 124.2L1403.25 132.7L1387.75 141.2Z" fill="#1a63d8"/><path d="M1266.3 169.6L1279.7 161.9L1279.7 177.3Z" fill="none" stroke="#ff1a1a" stroke-width="1.1" stroke-linejoin="miter"/><path d="M1275.25 164.19L1280.25 161.35L1280.25 177.85L1275.25 175.01Z" fill="#ff1a1a"/><path d="M1266.5 269L1279.9 261.3L1279.9 276.7Z" fill="none" stroke="#ff1a1a" stroke-width="1.1" stroke-linejoin="miter"/><path d="M1275.45 263.59L1280.45 260.75L1280.45 277.25L1275.45 274.41Z" fill="#ff1a1a"/><path d="M1306.3 332L1319.7 324.3L1319.7 339.7Z" fill="none" stroke="#ff1a1a" stroke-width="1.1" stroke-linejoin="miter"/><path d="M1315.25 326.59L1320.25 323.75L1320.25 340.25L1315.25 337.41Z" fill="#ff1a1a"/><path d="M1350.5 307.6L1363.9 299.9L1363.9 315.3Z" fill="none" stroke="#ff1a1a" stroke-width="1.1" stroke-linejoin="miter"/><path d="M1359.45 302.19L1364.45 299.35L1364.45 315.85L1359.45 313.01Z" fill="#ff1a1a"/><path d="M1384.1 317L1397.5 309.3L1397.5 324.7Z" fill="none" stroke="#ff1a1a" stroke-width="1.1" stroke-linejoin="miter"/><path d="M1393.05 311.59L1398.05 308.75L1398.05 325.25L1393.05 322.41Z" fill="#ff1a1a"/></g><text x="1262.6" y="197" font-family="'Liberation Serif','Times New Roman',serif" font-size="25" font-weight="bold" fill="#ff1a1a" text-anchor="start">L2</text><text x="1258" y="294" font-family="'Liberation Serif','Times New Roman',serif" font-size="25" font-weight="bold" fill="#ff1a1a" text-anchor="start">L1</text><text x="1300.6" y="357" font-family="'Liberation Serif','Times New Roman',serif" font-size="25" font-weight="bold" fill="#ff1a1a" text-anchor="start">L3</text><text x="1343.4" y="334" font-family="'Liberation Serif','Times New Roman',serif" font-size="25" font-weight="bold" fill="#ff1a1a" text-anchor="start">L4</text><text x="1377.4" y="342" font-family="'Liberation Serif','Times New Roman',serif" font-size="25" font-weight="bold" fill="#ff1a1a" text-anchor="start">L5</text><rect x="921" y="9.2" width="788" height="573" fill="none" stroke="#1a1a1a" stroke-width="2.2"/><line x1="977" y1="582.2" x2="977" y2="571.2" stroke="#1a1a1a" stroke-width="2"/><line x1="1089.3" y1="582.2" x2="1089.3" y2="571.2" stroke="#1a1a1a" stroke-width="2"/><line x1="1201.6" y1="582.2" x2="1201.6" y2="571.2" stroke="#1a1a1a" stroke-width="2"/><line x1="1313.9" y1="582.2" x2="1313.9" y2="571.2" stroke="#1a1a1a" stroke-width="2"/><line x1="1426.2" y1="582.2" x2="1426.2" y2="571.2" stroke="#1a1a1a" stroke-width="2"/><line x1="1538.5" y1="582.2" x2="1538.5" y2="571.2" stroke="#1a1a1a" stroke-width="2"/><line x1="1650.8" y1="582.2" x2="1650.8" y2="571.2" stroke="#1a1a1a" stroke-width="2"/><line x1="1033.15" y1="582.2" x2="1033.15" y2="576.2" stroke="#1a1a1a" stroke-width="2"/><line x1="1145.45" y1="582.2" x2="1145.45" y2="576.2" stroke="#1a1a1a" stroke-width="2"/><line x1="1257.75" y1="582.2" x2="1257.75" y2="576.2" stroke="#1a1a1a" stroke-width="2"/><line x1="1370.05" y1="582.2" x2="1370.05" y2="576.2" stroke="#1a1a1a" stroke-width="2"/><line x1="1482.35" y1="582.2" x2="1482.35" y2="576.2" stroke="#1a1a1a" stroke-width="2"/><line x1="1594.65" y1="582.2" x2="1594.65" y2="576.2" stroke="#1a1a1a" stroke-width="2"/><line x1="921" y1="511.1" x2="932" y2="511.1" stroke="#1a1a1a" stroke-width="2"/><line x1="921" y1="439.4" x2="932" y2="439.4" stroke="#1a1a1a" stroke-width="2"/><line x1="921" y1="367.7" x2="932" y2="367.7" stroke="#1a1a1a" stroke-width="2"/><line x1="921" y1="296" x2="932" y2="296" stroke="#1a1a1a" stroke-width="2"/><line x1="921" y1="224.3" x2="932" y2="224.3" stroke="#1a1a1a" stroke-width="2"/><line x1="921" y1="152.6" x2="932" y2="152.6" stroke="#1a1a1a" stroke-width="2"/><line x1="921" y1="80.9" x2="932" y2="80.9" stroke="#1a1a1a" stroke-width="2"/><line x1="921" y1="546.95" x2="927" y2="546.95" stroke="#1a1a1a" stroke-width="2"/><line x1="921" y1="475.25" x2="927" y2="475.25" stroke="#1a1a1a" stroke-width="2"/><line x1="921" y1="403.55" x2="927" y2="403.55" stroke="#1a1a1a" stroke-width="2"/><line x1="921" y1="331.85" x2="927" y2="331.85" stroke="#1a1a1a" stroke-width="2"/><line x1="921" y1="260.15" x2="927" y2="260.15" stroke="#1a1a1a" stroke-width="2"/><line x1="921" y1="188.45" x2="927" y2="188.45" stroke="#1a1a1a" stroke-width="2"/><line x1="921" y1="116.75" x2="927" y2="116.75" stroke="#1a1a1a" stroke-width="2"/><line x1="921" y1="45.05" x2="927" y2="45.05" stroke="#1a1a1a" stroke-width="2"/><text x="958.2 970.5 982.8" y="617.6" font-family="'Liberation Serif','Times New Roman',serif" font-size="26" fill="#000">0.2</text><text x="1070.5 1082.8 1095.1" y="617.6" font-family="'Liberation Serif','Times New Roman',serif" font-size="26" fill="#000">0.3</text><text x="1182.8 1195.1 1207.4" y="617.6" font-family="'Liberation Serif','Times New Roman',serif" font-size="26" fill="#000">0.4</text><text x="1295.1 1307.4 1319.7" y="617.6" font-family="'Liberation Serif','Times New Roman',serif" font-size="26" fill="#000">0.5</text><text x="1407.4 1419.7 1432" y="617.6" font-family="'Liberation Serif','Times New Roman',serif" font-size="26" fill="#000">0.6</text><text x="1519.7 1532 1544.3" y="617.6" font-family="'Liberation Serif','Times New Roman',serif" font-size="26" fill="#000">0.7</text><text x="1632 1644.3 1656.6" y="617.6" font-family="'Liberation Serif','Times New Roman',serif" font-size="26" fill="#000">0.8</text><text x="870.9 883.2 895.5" y="591.6" font-family="'Liberation Serif','Times New Roman',serif" font-size="26" fill="#000">5.0</text><text x="870.9 883.2 895.5" y="519.9" font-family="'Liberation Serif','Times New Roman',serif" font-size="26" fill="#000">5.5</text><text x="870.9 883.2 895.5" y="448.2" font-family="'Liberation Serif','Times New Roman',serif" font-size="26" fill="#000">6.0</text><text x="870.9 883.2 895.5" y="376.5" font-family="'Liberation Serif','Times New Roman',serif" font-size="26" fill="#000">6.5</text><text x="870.9 883.2 895.5" y="304.8" font-family="'Liberation Serif','Times New Roman',serif" font-size="26" fill="#000">7.0</text><text x="870.9 883.2 895.5" y="233.1" font-family="'Liberation Serif','Times New Roman',serif" font-size="26" fill="#000">7.5</text><text x="870.9 883.2 895.5" y="161.4" font-family="'Liberation Serif','Times New Roman',serif" font-size="26" fill="#000">8.0</text><text x="870.9 883.2 895.5" y="89.7" font-family="'Liberation Serif','Times New Roman',serif" font-size="26" fill="#000">8.5</text><text x="870.9 883.2 895.5" y="18" font-family="'Liberation Serif','Times New Roman',serif" font-size="26" fill="#000">9.0</text><text x="1315" y="658.3" font-family="'Liberation Serif','Times New Roman',serif" font-size="30" font-weight="normal" fill="#000" text-anchor="middle">PSFE</text><text transform="translate(857 295.5) rotate(-90)" font-family="'Liberation Serif','Times New Roman',serif" font-size="31" text-anchor="middle" fill="#000">VEC</text><path d="M1525 401.75L1533.5 387.25L1542 401.75Z" fill="#000"/><path d="M1524.75 427.8L1539.25 420.2L1539.25 435.4Z" fill="none" stroke="#ff1a1a" stroke-width="1.1" stroke-linejoin="miter"/><path d="M1528.75 450.2L1543.85 459L1528.75 467.8Z" fill="#1a63d8"/><text x="1571.6" y="404.8" font-family="'Liberation Serif','Times New Roman',serif" font-size="25" font-weight="normal" fill="#000" text-anchor="start">&#963;-Prone</text><text x="1571.6" y="435.9" font-family="'Liberation Serif','Times New Roman',serif" font-size="25" font-weight="normal" fill="#000" text-anchor="start">&#963;-Free</text><text x="1571.6" y="467.9" font-family="'Liberation Serif','Times New Roman',serif" font-size="25" font-weight="normal" fill="#000" text-anchor="start">CoCrFeNi</text><text x="1571.6" y="497.9" font-family="'Liberation Serif','Times New Roman',serif" font-size="25" font-weight="normal" fill="#000" text-anchor="start">series alloys</text><rect x="352.6" y="851.2" width="261.4" height="197.8" fill="url(#dots)"/><rect x="352.6" y="851.2" width="261.4" height="197.8" fill="none" stroke="#3a3a3a" stroke-width="1.3" stroke-dasharray="4 3.5"/><g><path d="M344 749.6L352.5 734.4L361 749.6Z" fill="#000"/><path d="M343.5 857.6L352 842.4L360.5 857.6Z" fill="#000"/><path d="M439.9 857.6L448.4 842.4L456.9 857.6Z" fill="#000"/><path d="M381.5 877.6L390 862.4L398.5 877.6Z" fill="#000"/><path d="M343.5 887.6L352 872.4L360.5 887.6Z" fill="#000"/><path d="M403.5 906.6L412 891.4L420.5 906.6Z" fill="#000"/><path d="M343.5 908.6L352 893.4L360.5 908.6Z" fill="#000"/><path d="M439.9 922.6L448.4 907.4L456.9 922.6Z" fill="#000"/><path d="M362.5 937.6L371 922.4L379.5 937.6Z" fill="#000"/><path d="M343.5 941.6L352 926.4L360.5 941.6Z" fill="#000"/><path d="M381.5 960.6L390 945.4L398.5 960.6Z" fill="#000"/><path d="M400.5 965.6L409 950.4L417.5 965.6Z" fill="#000"/><path d="M400.5 971.6L409 956.4L417.5 971.6Z" fill="#000"/><path d="M439.9 960.6L448.4 945.4L456.9 960.6Z" fill="#000"/><path d="M343.5 977.6L352 962.4L360.5 977.6Z" fill="#000"/><path d="M439.9 980.6L448.4 965.4L456.9 980.6Z" fill="#000"/><path d="M343.5 1002.6L352 987.4L360.5 1002.6Z" fill="#000"/><path d="M343.5 1021.6L352 1006.4L360.5 1021.6Z" fill="#000"/><path d="M439.9 1025.6L448.4 1010.4L456.9 1025.6Z" fill="#000"/><path d="M479.5 952L488 936.8L496.5 952Z" fill="#000"/><path d="M537.5 883.6L546 868.4L554.5 883.6Z" fill="#000"/><path d="M527.5 947.2L536 932L544.5 947.2Z" fill="#000"/><path d="M537.5 941.6L546 926.4L554.5 941.6Z" fill="#000"/><path d="M567.1 936.6L575.6 921.4L584.1 936.6Z" fill="#000"/><path d="M575.9 955.2L584.4 940L592.9 955.2Z" fill="#000"/><path d="M605.9 956L614.4 940.8L622.9 956Z" fill="#000"/><path d="M508.5 970.6L517 955.4L525.5 970.6Z" fill="#000"/><path d="M508.5 976.6L517 961.4L525.5 976.6Z" fill="#000"/><path d="M557.5 963.6L566 948.4L574.5 963.6Z" fill="#000"/><path d="M557.5 970.6L566 955.4L574.5 970.6Z" fill="#000"/><path d="M537.5 1005.2L546 990L554.5 1005.2Z" fill="#000"/><path d="M469.1 1050.6L477.6 1035.4L486.1 1050.6Z" fill="#000"/><path d="M508.5 1052.6L517 1037.4L525.5 1052.6Z" fill="#000"/><path d="M557.1 1053.2L565.6 1038L574.1 1053.2Z" fill="#000"/><path d="M682.5 1094L691 1078.8L699.5 1094Z" fill="#000"/><path d="M692.5 1091.6L701 1076.4L709.5 1091.6Z" fill="#000"/><path d="M605.5 1127.2L614 1112L622.5 1127.2Z" fill="#000"/><path d="M731.7 1281.1L740.2 1265.9L748.7 1281.1Z" fill="#000"/><path d="M197.45 808L211.55 800.15L211.55 815.85Z" fill="none" stroke="#ff1a1a" stroke-width="1.1" stroke-linejoin="miter"/><path d="M323.25 794L337.35 786.15L337.35 801.85Z" fill="none" stroke="#ff1a1a" stroke-width="1.1" stroke-linejoin="miter"/><path d="M400.65 795L414.75 787.15L414.75 802.85Z" fill="none" stroke="#ff1a1a" stroke-width="1.1" stroke-linejoin="miter"/><path d="M341.95 805L356.05 797.15L356.05 812.85Z" fill="none" stroke="#ff1a1a" stroke-width="1.1" stroke-linejoin="miter"/><path d="M341.95 819L356.05 811.15L356.05 826.85Z" fill="none" stroke="#ff1a1a" stroke-width="1.1" stroke-linejoin="miter"/><path d="M303.75 824L317.85 816.15L317.85 831.85Z" fill="none" stroke="#ff1a1a" stroke-width="1.1" stroke-linejoin="miter"/><path d="M362.45 828L376.55 820.15L376.55 835.85Z" fill="none" stroke="#ff1a1a" stroke-width="1.1" stroke-linejoin="miter"/><path d="M128.95 853L143.05 845.15L143.05 860.85Z" fill="none" stroke="#ff1a1a" stroke-width="1.1" stroke-linejoin="miter"/><path d="M232.35 849L246.45 841.15L246.45 856.85Z" fill="none" stroke="#ff1a1a" stroke-width="1.1" stroke-linejoin="miter"/><path d="M275.25 843L289.35 835.15L289.35 850.85Z" fill="none" stroke="#ff1a1a" stroke-width="1.1" stroke-linejoin="miter"/><path d="M278.65 844L292.75 836.15L292.75 851.85Z" fill="none" stroke="#ff1a1a" stroke-width="1.1" stroke-linejoin="miter"/><path d="M275.25 851L289.35 843.15L289.35 858.85Z" fill="none" stroke="#ff1a1a" stroke-width="1.1" stroke-linejoin="miter"/><path d="M278.65 858L292.75 850.15L292.75 865.85Z" fill="none" stroke="#ff1a1a" stroke-width="1.1" stroke-linejoin="miter"/><path d="M275.25 866L289.35 858.15L289.35 873.85Z" fill="none" stroke="#ff1a1a" stroke-width="1.1" stroke-linejoin="miter"/><path d="M307.55 852L321.65 844.15L321.65 859.85Z" fill="none" stroke="#ff1a1a" stroke-width="1.1" stroke-linejoin="miter"/><path d="M232.35 871L246.45 863.15L246.45 878.85Z" fill="none" stroke="#ff1a1a" stroke-width="1.1" stroke-linejoin="miter"/><path d="M232.35 876L246.45 868.15L246.45 883.85Z" fill="none" stroke="#ff1a1a" stroke-width="1.1" stroke-linejoin="miter"/><path d="M303.75 879L317.85 871.15L317.85 886.85Z" fill="none" stroke="#ff1a1a" stroke-width="1.1" stroke-linejoin="miter"/><path d="M306.95 878L321.05 870.15L321.05 885.85Z" fill="none" stroke="#ff1a1a" stroke-width="1.1" stroke-linejoin="miter"/><path d="M278.15 889.6L292.25 881.75L292.25 897.45Z" fill="none" stroke="#ff1a1a" stroke-width="1.1" stroke-linejoin="miter"/><path d="M319.95 887L334.05 879.15L334.05 894.85Z" fill="none" stroke="#ff1a1a" stroke-width="1.1" stroke-linejoin="miter"/><path d="M307.55 893L321.65 885.15L321.65 900.85Z" fill="none" stroke="#ff1a1a" stroke-width="1.1" stroke-linejoin="miter"/><path d="M334.95 898L349.05 890.15L349.05 905.85Z" fill="none" stroke="#ff1a1a" stroke-width="1.1" stroke-linejoin="miter"/><path d="M197.25 893.6L211.35 885.75L211.35 901.45Z" fill="none" stroke="#ff1a1a" stroke-width="1.1" stroke-linejoin="miter"/><path d="M207.75 898L221.85 890.15L221.85 905.85Z" fill="none" stroke="#ff1a1a" stroke-width="1.1" stroke-linejoin="miter"/><path d="M216.65 904L230.75 896.15L230.75 911.85Z" fill="none" stroke="#ff1a1a" stroke-width="1.1" stroke-linejoin="miter"/><path d="M227.95 914L242.05 906.15L242.05 921.85Z" fill="none" stroke="#ff1a1a" stroke-width="1.1" stroke-linejoin="miter"/><path d="M232.15 914L246.25 906.15L246.25 921.85Z" fill="none" stroke="#ff1a1a" stroke-width="1.1" stroke-linejoin="miter"/><path d="M235.55 923L249.65 915.15L249.65 930.85Z" fill="none" stroke="#ff1a1a" stroke-width="1.1" stroke-linejoin="miter"/><path d="M253.45 909.6L267.55 901.75L267.55 917.45Z" fill="none" stroke="#ff1a1a" stroke-width="1.1" stroke-linejoin="miter"/><path d="M226.35 937.6L240.45 929.75L240.45 945.45Z" fill="none" stroke="#ff1a1a" stroke-width="1.1" stroke-linejoin="miter"/><path d="M255.55 937L269.65 929.15L269.65 944.85Z" fill="none" stroke="#ff1a1a" stroke-width="1.1" stroke-linejoin="miter"/><path d="M277.95 938L292.05 930.15L292.05 945.85Z" fill="none" stroke="#ff1a1a" stroke-width="1.1" stroke-linejoin="miter"/><path d="M264.35 949.6L278.45 941.75L278.45 957.45Z" fill="none" stroke="#ff1a1a" stroke-width="1.1" stroke-linejoin="miter"/><path d="M341.95 945L356.05 937.15L356.05 952.85Z" fill="none" stroke="#ff1a1a" stroke-width="1.1" stroke-linejoin="miter"/><path d="M303.75 960L317.85 952.15L317.85 967.85Z" fill="none" stroke="#ff1a1a" stroke-width="1.1" stroke-linejoin="miter"/><path d="M303.75 964L317.85 956.15L317.85 971.85Z" fill="none" stroke="#ff1a1a" stroke-width="1.1" stroke-linejoin="miter"/><path d="M303.75 968L317.85 960.15L317.85 975.85Z" fill="none" stroke="#ff1a1a" stroke-width="1.1" stroke-linejoin="miter"/><path d="M274.95 974.4L289.05 966.55L289.05 982.25Z" fill="none" stroke="#ff1a1a" stroke-width="1.1" stroke-linejoin="miter"/><path d="M278.65 974.4L292.75 966.55L292.75 982.25Z" fill="none" stroke="#ff1a1a" stroke-width="1.1" stroke-linejoin="miter"/><path d="M303.75 988L317.85 980.15L317.85 995.85Z" fill="none" stroke="#ff1a1a" stroke-width="1.1" stroke-linejoin="miter"/><path d="M284.45 995.6L298.55 987.75L298.55 1003.45Z" fill="none" stroke="#ff1a1a" stroke-width="1.1" stroke-linejoin="miter"/><path d="M128.95 964.6L143.05 956.75L143.05 972.45Z" fill="none" stroke="#ff1a1a" stroke-width="1.1" stroke-linejoin="miter"/><path d="M341.95 1037.6L356.05 1029.75L356.05 1045.45Z" fill="none" stroke="#ff1a1a" stroke-width="1.1" stroke-linejoin="miter"/><path d="M303.75 1041.6L317.85 1033.75L317.85 1049.45Z" fill="none" stroke="#ff1a1a" stroke-width="1.1" stroke-linejoin="miter"/><path d="M274.65 1056L288.75 1048.15L288.75 1063.85Z" fill="none" stroke="#ff1a1a" stroke-width="1.1" stroke-linejoin="miter"/><path d="M274.65 1061L288.75 1053.15L288.75 1068.85Z" fill="none" stroke="#ff1a1a" stroke-width="1.1" stroke-linejoin="miter"/><path d="M167.75 1094.4L181.85 1086.55L181.85 1102.25Z" fill="none" stroke="#ff1a1a" stroke-width="1.1" stroke-linejoin="miter"/><path d="M385.75 1092L399.85 1084.15L399.85 1099.85Z" fill="none" stroke="#ff1a1a" stroke-width="1.1" stroke-linejoin="miter"/><path d="M342.35 1228L356.45 1220.15L356.45 1235.85Z" fill="none" stroke="#ff1a1a" stroke-width="1.1" stroke-linejoin="miter"/><path d="M487.95 1148.4L502.05 1140.55L502.05 1156.25Z" fill="none" stroke="#ff1a1a" stroke-width="1.1" stroke-linejoin="miter"/><path d="M220.55 1239.9L236.05 1248.2L220.55 1256.5Z" fill="#0000ff"/><path d="M443.75 1221.5L459.25 1229.8L443.75 1238.1Z" fill="#0000ff"/><path d="M511.35 1204.7L526.85 1213L511.35 1221.3Z" fill="#0000ff"/><path d="M511.35 1211.7L526.85 1220L511.35 1228.3Z" fill="#0000ff"/><path d="M406.1 914L419.5 906.55L419.5 921.45Z" fill="none" stroke="#ff1a1a" stroke-width="1.1" stroke-linejoin="miter"/><path d="M415.05 908.76L420.05 906L420.05 922L415.05 919.24Z" fill="#ff1a1a"/><path d="M440.1 887L453.5 879.55L453.5 894.45Z" fill="none" stroke="#ff1a1a" stroke-width="1.1" stroke-linejoin="miter"/><path d="M449.05 881.76L454.05 879L454.05 895L449.05 892.24Z" fill="#ff1a1a"/><path d="M479.6 865L493 857.55L493 872.45Z" fill="none" stroke="#ff1a1a" stroke-width="1.1" stroke-linejoin="miter"/><path d="M488.55 859.76L493.55 857L493.55 873L488.55 870.24Z" fill="#ff1a1a"/><path d="M508.3 872L521.7 864.55L521.7 879.45Z" fill="none" stroke="#ff1a1a" stroke-width="1.1" stroke-linejoin="miter"/><path d="M517.25 866.76L522.25 864L522.25 880L517.25 877.24Z" fill="#ff1a1a"/><path d="M406.1 1067L419.5 1059.55L419.5 1074.45Z" fill="none" stroke="#ff1a1a" stroke-width="1.1" stroke-linejoin="miter"/><path d="M415.05 1061.76L420.05 1059L420.05 1075L415.05 1072.24Z" fill="#ff1a1a"/></g><text x="405.5" y="935" font-family="'Liberation Serif','Times New Roman',serif" font-size="22.5" font-weight="bold" fill="#ff1a1a" text-anchor="start">L1</text><text x="446.5" y="915" font-family="'Liberation Serif','Times New Roman',serif" font-size="22.5" font-weight="bold" fill="#ff1a1a" text-anchor="start">L3</text><text x="472.5" y="886.4" font-family="'Liberation Serif','Times New Roman',serif" font-size="22.5" font-weight="bold" fill="#ff1a1a" text-anchor="start">L4</text><text x="506.5" y="897.6" font-family="'Liberation Serif','Times New Roman',serif" font-size="22.5" font-weight="bold" fill="#ff1a1a" text-anchor="start">L5</text><text x="408.5" y="1091" font-family="'Liberation Serif','Times New Roman',serif" font-size="22.5" font-weight="bold" fill="#ff1a1a" text-anchor="start">L2</text><rect x="60" y="708.9" width="777.4" height="585.7" fill="none" stroke="#1a1a1a" stroke-width="2.2"/><line x1="157.9" y1="1294.6" x2="157.9" y2="1283.6" stroke="#1a1a1a" stroke-width="2"/><line x1="352.1" y1="1294.6" x2="352.1" y2="1283.6" stroke="#1a1a1a" stroke-width="2"/><line x1="546.3" y1="1294.6" x2="546.3" y2="1283.6" stroke="#1a1a1a" stroke-width="2"/><line x1="740.5" y1="1294.6" x2="740.5" y2="1283.6" stroke="#1a1a1a" stroke-width="2"/><line x1="60.8" y1="1294.6" x2="60.8" y2="1288.6" stroke="#1a1a1a" stroke-width="2"/><line x1="255" y1="1294.6" x2="255" y2="1288.6" stroke="#1a1a1a" stroke-width="2"/><line x1="449.2" y1="1294.6" x2="449.2" y2="1288.6" stroke="#1a1a1a" stroke-width="2"/><line x1="643.4" y1="1294.6" x2="643.4" y2="1288.6" stroke="#1a1a1a" stroke-width="2"/><line x1="60" y1="1294.6" x2="71" y2="1294.6" stroke="#1a1a1a" stroke-width="2"/><line x1="60" y1="1232.97" x2="71" y2="1232.97" stroke="#1a1a1a" stroke-width="2"/><line x1="60" y1="1171.34" x2="71" y2="1171.34" stroke="#1a1a1a" stroke-width="2"/><line x1="60" y1="1109.71" x2="71" y2="1109.71" stroke="#1a1a1a" stroke-width="2"/><line x1="60" y1="1048.08" x2="71" y2="1048.08" stroke="#1a1a1a" stroke-width="2"/><line x1="60" y1="986.45" x2="71" y2="986.45" stroke="#1a1a1a" stroke-width="2"/><line x1="60" y1="924.82" x2="71" y2="924.82" stroke="#1a1a1a" stroke-width="2"/><line x1="60" y1="863.19" x2="71" y2="863.19" stroke="#1a1a1a" stroke-width="2"/><line x1="60" y1="801.56" x2="71" y2="801.56" stroke="#1a1a1a" stroke-width="2"/><line x1="60" y1="739.93" x2="71" y2="739.93" stroke="#1a1a1a" stroke-width="2"/><line x1="60" y1="1263.78" x2="66" y2="1263.78" stroke="#1a1a1a" stroke-width="2"/><line x1="60" y1="1202.15" x2="66" y2="1202.15" stroke="#1a1a1a" stroke-width="2"/><line x1="60" y1="1140.52" x2="66" y2="1140.52" stroke="#1a1a1a" stroke-width="2"/><line x1="60" y1="1078.89" x2="66" y2="1078.89" stroke="#1a1a1a" stroke-width="2"/><line x1="60" y1="1017.26" x2="66" y2="1017.26" stroke="#1a1a1a" stroke-width="2"/><line x1="60" y1="955.63" x2="66" y2="955.63" stroke="#1a1a1a" stroke-width="2"/><line x1="60" y1="894" x2="66" y2="894" stroke="#1a1a1a" stroke-width="2"/><line x1="60" y1="832.37" x2="66" y2="832.37" stroke="#1a1a1a" stroke-width="2"/><line x1="60" y1="770.74" x2="66" y2="770.74" stroke="#1a1a1a" stroke-width="2"/><text x="138.03 151.03 164.03" y="1330.8" font-family="'Liberation Serif','Times New Roman',serif" font-size="27.5" fill="#000">0.2</text><text x="332.23 345.23 358.23" y="1330.8" font-family="'Liberation Serif','Times New Roman',serif" font-size="27.5" fill="#000">0.4</text><text x="526.42 539.42 552.42" y="1330.8" font-family="'Liberation Serif','Times New Roman',serif" font-size="27.5" fill="#000">0.6</text><text x="720.63 733.63 746.63" y="1330.8" font-family="'Liberation Serif','Times New Roman',serif" font-size="27.5" fill="#000">0.8</text><text x="33.75" y="1304" font-family="'Liberation Serif','Times New Roman',serif" font-size="27.5" fill="#000">0</text><text x="33.75" y="1242.37" font-family="'Liberation Serif','Times New Roman',serif" font-size="27.5" fill="#000">1</text><text x="33.75" y="1180.74" font-family="'Liberation Serif','Times New Roman',serif" font-size="27.5" fill="#000">2</text><text x="33.75" y="1119.11" font-family="'Liberation Serif','Times New Roman',serif" font-size="27.5" fill="#000">3</text><text x="33.75" y="1057.48" font-family="'Liberation Serif','Times New Roman',serif" font-size="27.5" fill="#000">4</text><text x="33.75" y="995.85" font-family="'Liberation Serif','Times New Roman',serif" font-size="27.5" fill="#000">5</text><text x="33.75" y="934.22" font-family="'Liberation Serif','Times New Roman',serif" font-size="27.5" fill="#000">6</text><text x="33.75" y="872.59" font-family="'Liberation Serif','Times New Roman',serif" font-size="27.5" fill="#000">7</text><text x="33.75" y="810.96" font-family="'Liberation Serif','Times New Roman',serif" font-size="27.5" fill="#000">8</text><text x="33.75" y="749.33" font-family="'Liberation Serif','Times New Roman',serif" font-size="27.5" fill="#000">9</text><text x="448.5" y="1371" font-family="'Liberation Serif','Times New Roman',serif" font-size="29" font-weight="normal" fill="#000" text-anchor="middle">PSFE</text><text transform="translate(22.5 998) rotate(-90)" font-family="'Liberation Serif','Times New Roman',serif" font-size="27" text-anchor="middle" fill="#000">&#948;</text><path d="M655.8 747.25L664 731.75L672.2 747.25Z" fill="#000"/><path d="M654.65 773.5L668.95 765.6L668.95 781.4Z" fill="none" stroke="#ff1a1a" stroke-width="1.1" stroke-linejoin="miter"/><path d="M659 796L673.6 804.5L659 813Z" fill="#0000ff"/><text x="702.5" y="750.6" font-family="'Liberation Serif','Times New Roman',serif" font-size="22.5" font-weight="normal" fill="#000" text-anchor="start">&#963;-Prone</text><text x="702.5" y="781.6" font-family="'Liberation Serif','Times New Roman',serif" font-size="22.5" font-weight="normal" fill="#000" text-anchor="start">&#963;-Free</text><text x="702.5" y="812.6" font-family="'Liberation Serif','Times New Roman',serif" font-size="22.5" font-weight="normal" fill="#000" text-anchor="start">CoCrFeNi</text><text x="702.5" y="843.6" font-family="'Liberation Serif','Times New Roman',serif" font-size="22.5" font-weight="normal" fill="#000" text-anchor="start">series alloys</text><ellipse cx="1338.8" cy="987.4" rx="176.7" ry="50.4" transform="rotate(26.4 1338.8 987.4)" fill="url(#dots)" stroke="#3a3a3a" stroke-width="1.3" stroke-dasharray="4 3.5"/><g><path d="M1258.5 734.6L1267 719.4L1275.5 734.6Z" fill="#000"/><path d="M1021.1 897.6L1029.6 882.4L1038.1 897.6Z" fill="#000"/><path d="M1129.5 896L1138 880.8L1146.5 896Z" fill="#000"/><path d="M1163.5 931.2L1172 916L1180.5 931.2Z" fill="#000"/><path d="M1169.5 927.6L1178 912.4L1186.5 927.6Z" fill="#000"/><path d="M1198.5 911.6L1207 896.4L1215.5 911.6Z" fill="#000"/><path d="M1210.5 931.2L1219 916L1227.5 931.2Z" fill="#000"/><path d="M1233.5 931.2L1242 916L1250.5 931.2Z" fill="#000"/><path d="M1237.9 961.2L1246.4 946L1254.9 961.2Z" fill="#000"/><path d="M1295.3 844.6L1303.8 829.4L1312.3 844.6Z" fill="#000"/><path d="M1376.2 845.6L1384.7 830.4L1393.2 845.6Z" fill="#000"/><path d="M1258.5 866.6L1267 851.4L1275.5 866.6Z" fill="#000"/><path d="M1247.5 872.6L1256 857.4L1264.5 872.6Z" fill="#000"/><path d="M1289.1 876.6L1297.6 861.4L1306.1 876.6Z" fill="#000"/><path d="M1305.5 926.6L1314 911.4L1322.5 926.6Z" fill="#000"/><path d="M1262.5 937.6L1271 922.4L1279.5 937.6Z" fill="#000"/><path d="M1260.5 945.6L1269 930.4L1277.5 945.6Z" fill="#000"/><path d="M1279.5 941.6L1288 926.4L1296.5 941.6Z" fill="#000"/><path d="M1312.5 955.6L1321 940.4L1329.5 955.6Z" fill="#000"/><path d="M1317.5 951.6L1326 936.4L1334.5 951.6Z" fill="#000"/><path d="M1347.5 961.6L1356 946.4L1364.5 961.6Z" fill="#000"/><path d="M1359.5 961.6L1368 946.4L1376.5 961.6Z" fill="#000"/><path d="M1376.5 996.6L1385 981.4L1393.5 996.6Z" fill="#000"/><path d="M1376.5 1017.1L1385 1001.9L1393.5 1017.1Z" fill="#000"/><path d="M1442.5 951.6L1451 936.4L1459.5 951.6Z" fill="#000"/><path d="M1444.1 970L1452.6 954.8L1461.1 970Z" fill="#000"/><path d="M1476.1 972L1484.6 956.8L1493.1 972Z" fill="#000"/><path d="M1447 994.5L1455.5 979.3L1464 994.5Z" fill="#000"/><path d="M1542 1013.2L1550.5 998L1559 1013.2Z" fill="#000"/><path d="M1440.5 1045.4L1449 1030.2L1457.5 1045.4Z" fill="#000"/><path d="M1461.9 1045L1470.4 1029.8L1478.9 1045Z" fill="#000"/><path d="M1482.9 1043L1491.4 1027.8L1499.9 1043Z" fill="#000"/><path d="M1461.9 1085.2L1470.4 1070L1478.9 1085.2Z" fill="#000"/><path d="M1494.5 1120.9L1503 1105.7L1511.5 1120.9Z" fill="#000"/><path d="M1383.6 1088L1392.1 1072.8L1400.6 1088Z" fill="#000"/><path d="M1447 1278.9L1455.5 1263.7L1464 1278.9Z" fill="#000"/><path d="M985.15 781L998.85 773.3L998.85 788.7Z" fill="none" stroke="#ff1a1a" stroke-width="1.1" stroke-linejoin="miter"/><path d="M1020.85 795L1034.55 787.3L1034.55 802.7Z" fill="none" stroke="#ff1a1a" stroke-width="1.1" stroke-linejoin="miter"/><path d="M1084.85 806L1098.55 798.3L1098.55 813.7Z" fill="none" stroke="#ff1a1a" stroke-width="1.1" stroke-linejoin="miter"/><path d="M1129.45 780L1143.15 772.3L1143.15 787.7Z" fill="none" stroke="#ff1a1a" stroke-width="1.1" stroke-linejoin="miter"/><path d="M1209.95 792L1223.65 784.3L1223.65 799.7Z" fill="none" stroke="#ff1a1a" stroke-width="1.1" stroke-linejoin="miter"/><path d="M1172.35 811.4L1186.05 803.7L1186.05 819.1Z" fill="none" stroke="#ff1a1a" stroke-width="1.1" stroke-linejoin="miter"/><path d="M1200.65 815.6L1214.35 807.9L1214.35 823.3Z" fill="none" stroke="#ff1a1a" stroke-width="1.1" stroke-linejoin="miter"/><path d="M1178.85 831L1192.55 823.3L1192.55 838.7Z" fill="none" stroke="#ff1a1a" stroke-width="1.1" stroke-linejoin="miter"/><path d="M1053.85 836.4L1067.55 828.7L1067.55 844.1Z" fill="none" stroke="#ff1a1a" stroke-width="1.1" stroke-linejoin="miter"/><path d="M1020.85 863L1034.55 855.3L1034.55 870.7Z" fill="none" stroke="#ff1a1a" stroke-width="1.1" stroke-linejoin="miter"/><path d="M1139.45 877.6L1153.15 869.9L1153.15 885.3Z" fill="none" stroke="#ff1a1a" stroke-width="1.1" stroke-linejoin="miter"/><path d="M1168.85 883L1182.55 875.3L1182.55 890.7Z" fill="none" stroke="#ff1a1a" stroke-width="1.1" stroke-linejoin="miter"/><path d="M1188.85 885L1202.55 877.3L1202.55 892.7Z" fill="none" stroke="#ff1a1a" stroke-width="1.1" stroke-linejoin="miter"/><path d="M1226.35 891L1240.05 883.3L1240.05 898.7Z" fill="none" stroke="#ff1a1a" stroke-width="1.1" stroke-linejoin="miter"/><path d="M1235.65 868L1249.35 860.3L1249.35 875.7Z" fill="none" stroke="#ff1a1a" stroke-width="1.1" stroke-linejoin="miter"/><path d="M1250.45 895.5L1264.15 887.8L1264.15 903.2Z" fill="none" stroke="#ff1a1a" stroke-width="1.1" stroke-linejoin="miter"/><path d="M1272.45 875.2L1286.15 867.5L1286.15 882.9Z" fill="none" stroke="#ff1a1a" stroke-width="1.1" stroke-linejoin="miter"/><path d="M1257.35 838.4L1271.05 830.7L1271.05 846.1Z" fill="none" stroke="#ff1a1a" stroke-width="1.1" stroke-linejoin="miter"/><path d="M1278.75 840.8L1292.45 833.1L1292.45 848.5Z" fill="none" stroke="#ff1a1a" stroke-width="1.1" stroke-linejoin="miter"/><path d="M1257.35 846.3L1271.05 838.6L1271.05 854Z" fill="none" stroke="#ff1a1a" stroke-width="1.1" stroke-linejoin="miter"/><path d="M1297.95 853.4L1311.65 845.7L1311.65 861.1Z" fill="none" stroke="#ff1a1a" stroke-width="1.1" stroke-linejoin="miter"/><path d="M1326.25 860.4L1339.95 852.7L1339.95 868.1Z" fill="none" stroke="#ff1a1a" stroke-width="1.1" stroke-linejoin="miter"/><path d="M1375.95 838.4L1389.65 830.7L1389.65 846.1Z" fill="none" stroke="#ff1a1a" stroke-width="1.1" stroke-linejoin="miter"/><path d="M1310.15 886L1323.85 878.3L1323.85 893.7Z" fill="none" stroke="#ff1a1a" stroke-width="1.1" stroke-linejoin="miter"/><path d="M1321.65 880.8L1335.35 873.1L1335.35 888.5Z" fill="none" stroke="#ff1a1a" stroke-width="1.1" stroke-linejoin="miter"/><path d="M1290.65 903.8L1304.35 896.1L1304.35 911.5Z" fill="none" stroke="#ff1a1a" stroke-width="1.1" stroke-linejoin="miter"/><path d="M1326.05 904.9L1339.75 897.2L1339.75 912.6Z" fill="none" stroke="#ff1a1a" stroke-width="1.1" stroke-linejoin="miter"/><path d="M1319.35 912.2L1333.05 904.5L1333.05 919.9Z" fill="none" stroke="#ff1a1a" stroke-width="1.1" stroke-linejoin="miter"/><path d="M1326.05 927.9L1339.75 920.2L1339.75 935.6Z" fill="none" stroke="#ff1a1a" stroke-width="1.1" stroke-linejoin="miter"/><path d="M1386.05 898.6L1399.75 890.9L1399.75 906.3Z" fill="none" stroke="#ff1a1a" stroke-width="1.1" stroke-linejoin="miter"/><path d="M1366.35 926.9L1380.05 919.2L1380.05 934.6Z" fill="none" stroke="#ff1a1a" stroke-width="1.1" stroke-linejoin="miter"/><path d="M1387.55 949.9L1401.25 942.2L1401.25 957.6Z" fill="none" stroke="#ff1a1a" stroke-width="1.1" stroke-linejoin="miter"/><path d="M1399.55 939.4L1413.25 931.7L1413.25 947.1Z" fill="none" stroke="#ff1a1a" stroke-width="1.1" stroke-linejoin="miter"/><path d="M1408.75 954.7L1422.45 947L1422.45 962.4Z" fill="none" stroke="#ff1a1a" stroke-width="1.1" stroke-linejoin="miter"/><path d="M1430.45 954.1L1444.15 946.4L1444.15 961.8Z" fill="none" stroke="#ff1a1a" stroke-width="1.1" stroke-linejoin="miter"/><path d="M1451.65 957.2L1465.35 949.5L1465.35 964.9Z" fill="none" stroke="#ff1a1a" stroke-width="1.1" stroke-linejoin="miter"/><path d="M1453.45 963.5L1467.15 955.8L1467.15 971.2Z" fill="none" stroke="#ff1a1a" stroke-width="1.1" stroke-linejoin="miter"/><path d="M1474.85 927.7L1488.55 920L1488.55 935.4Z" fill="none" stroke="#ff1a1a" stroke-width="1.1" stroke-linejoin="miter"/><path d="M1494.75 954.6L1508.45 946.9L1508.45 962.3Z" fill="none" stroke="#ff1a1a" stroke-width="1.1" stroke-linejoin="miter"/><path d="M1494.75 987L1508.45 979.3L1508.45 994.7Z" fill="none" stroke="#ff1a1a" stroke-width="1.1" stroke-linejoin="miter"/><path d="M1494.75 1029.3L1508.45 1021.6L1508.45 1037Z" fill="none" stroke="#ff1a1a" stroke-width="1.1" stroke-linejoin="miter"/><path d="M1579.55 978.7L1593.25 971L1593.25 986.4Z" fill="none" stroke="#ff1a1a" stroke-width="1.1" stroke-linejoin="miter"/><path d="M1557.95 1033.7L1571.65 1026L1571.65 1041.4Z" fill="none" stroke="#ff1a1a" stroke-width="1.1" stroke-linejoin="miter"/><path d="M1539.15 1048L1552.85 1040.3L1552.85 1055.7Z" fill="none" stroke="#ff1a1a" stroke-width="1.1" stroke-linejoin="miter"/><path d="M1572.15 1085.5L1585.85 1077.8L1585.85 1093.2Z" fill="none" stroke="#ff1a1a" stroke-width="1.1" stroke-linejoin="miter"/><path d="M1598.35 1087.5L1612.05 1079.8L1612.05 1095.2Z" fill="none" stroke="#ff1a1a" stroke-width="1.1" stroke-linejoin="miter"/><path d="M1328.75 1051.5L1342.45 1043.8L1342.45 1059.2Z" fill="none" stroke="#ff1a1a" stroke-width="1.1" stroke-linejoin="miter"/><path d="M1508.85 1142.9L1522.55 1135.2L1522.55 1150.6Z" fill="none" stroke="#ff1a1a" stroke-width="1.1" stroke-linejoin="miter"/><path d="M1683.75 1225L1697.45 1217.3L1697.45 1232.7Z" fill="none" stroke="#ff1a1a" stroke-width="1.1" stroke-linejoin="miter"/><path d="M1531.65 1205.7L1547.15 1214.2L1531.65 1222.7Z" fill="#0000ff"/><path d="M1559.45 1201.5L1574.95 1210L1559.45 1218.5Z" fill="#0000ff"/><path d="M1557.45 1218.4L1572.95 1226.9L1557.45 1235.4Z" fill="#0000ff"/><path d="M1632.75 1236.8L1648.25 1245.3L1632.75 1253.8Z" fill="#0000ff"/><path d="M1302.3 902.4L1315.7 894.95L1315.7 909.85Z" fill="none" stroke="#ff1a1a" stroke-width="1.1" stroke-linejoin="miter"/><path d="M1311.25 897.16L1316.25 894.4L1316.25 910.4L1311.25 907.64Z" fill="#ff1a1a"/><path d="M1304.7 933L1318.1 925.55L1318.1 940.45Z" fill="none" stroke="#ff1a1a" stroke-width="1.1" stroke-linejoin="miter"/><path d="M1313.65 927.76L1318.65 925L1318.65 941L1313.65 938.24Z" fill="#ff1a1a"/><path d="M1465.7 1059.9L1479.1 1052.45L1479.1 1067.35Z" fill="none" stroke="#ff1a1a" stroke-width="1.1" stroke-linejoin="miter"/><path d="M1474.65 1054.66L1479.65 1051.9L1479.65 1067.9L1474.65 1065.14Z" fill="#ff1a1a"/><path d="M1200.8 874.4L1214.2 866.95L1214.2 881.85Z" fill="none" stroke="#ff1a1a" stroke-width="1.1" stroke-linejoin="miter"/><path d="M1209.75 869.16L1214.75 866.4L1214.75 882.4L1209.75 879.64Z" fill="#ff1a1a"/><path d="M1240.3 852.6L1253.7 845.15L1253.7 860.05Z" fill="none" stroke="#ff1a1a" stroke-width="1.1" stroke-linejoin="miter"/><path d="M1249.25 847.36L1254.25 844.6L1254.25 860.6L1249.25 857.84Z" fill="#ff1a1a"/><path d="M1224.1 860.4L1237.5 852.95L1237.5 867.85Z" fill="none" stroke="#ff1a1a" stroke-width="1.1" stroke-linejoin="miter"/><path d="M1233.05 855.16L1238.05 852.4L1238.05 868.4L1233.05 865.64Z" fill="#ff1a1a"/></g><line x1="1313" y1="901.6" x2="1345" y2="889.5" stroke="#000" stroke-width="1.2" marker-end="url(#ah)"/><line x1="1317" y1="937" x2="1299" y2="973.5" stroke="#000" stroke-width="1.2" marker-end="url(#ah)"/><text x="1344" y="889" font-family="'Liberation Serif','Times New Roman',serif" font-size="23" font-weight="bold" fill="#ff1a1a" text-anchor="start">L1</text><text x="1278" y="988" font-family="'Liberation Serif','Times New Roman',serif" font-size="23" font-weight="bold" fill="#ff1a1a" text-anchor="start">L6</text><text x="1482.6" y="1069.5" font-family="'Liberation Serif','Times New Roman',serif" font-size="23" font-weight="bold" fill="#ff1a1a" text-anchor="start">L2</text><text x="1175.7" y="868" font-family="'Liberation Serif','Times New Roman',serif" font-size="23" font-weight="bold" fill="#ff1a1a" text-anchor="start">L3</text><text x="1224.5" y="840" font-family="'Liberation Serif','Times New Roman',serif" font-size="23" font-weight="bold" fill="#ff1a1a" text-anchor="start">L4</text><text x="1199.5" y="856.5" font-family="'Liberation Serif','Times New Roman',serif" font-size="23" font-weight="bold" fill="#ff1a1a" text-anchor="start">L5</text><rect x="911.6" y="708.5" width="804.4" height="584.3" fill="none" stroke="#1a1a1a" stroke-width="2.2"/><line x1="1029.2" y1="1292.8" x2="1029.2" y2="1281.8" stroke="#1a1a1a" stroke-width="2"/><line x1="1147.5" y1="1292.8" x2="1147.5" y2="1281.8" stroke="#1a1a1a" stroke-width="2"/><line x1="1265.8" y1="1292.8" x2="1265.8" y2="1281.8" stroke="#1a1a1a" stroke-width="2"/><line x1="1384.1" y1="1292.8" x2="1384.1" y2="1281.8" stroke="#1a1a1a" stroke-width="2"/><line x1="1502.4" y1="1292.8" x2="1502.4" y2="1281.8" stroke="#1a1a1a" stroke-width="2"/><line x1="1620.7" y1="1292.8" x2="1620.7" y2="1281.8" stroke="#1a1a1a" stroke-width="2"/><line x1="970.05" y1="1292.8" x2="970.05" y2="1286.8" stroke="#1a1a1a" stroke-width="2"/><line x1="1088.35" y1="1292.8" x2="1088.35" y2="1286.8" stroke="#1a1a1a" stroke-width="2"/><line x1="1206.65" y1="1292.8" x2="1206.65" y2="1286.8" stroke="#1a1a1a" stroke-width="2"/><line x1="1324.95" y1="1292.8" x2="1324.95" y2="1286.8" stroke="#1a1a1a" stroke-width="2"/><line x1="1443.25" y1="1292.8" x2="1443.25" y2="1286.8" stroke="#1a1a1a" stroke-width="2"/><line x1="1561.55" y1="1292.8" x2="1561.55" y2="1286.8" stroke="#1a1a1a" stroke-width="2"/><line x1="1679.85" y1="1292.8" x2="1679.85" y2="1286.8" stroke="#1a1a1a" stroke-width="2"/><line x1="911.6" y1="1292.8" x2="922.6" y2="1292.8" stroke="#1a1a1a" stroke-width="2"/><line x1="911.6" y1="1229.7" x2="922.6" y2="1229.7" stroke="#1a1a1a" stroke-width="2"/><line x1="911.6" y1="1166.6" x2="922.6" y2="1166.6" stroke="#1a1a1a" stroke-width="2"/><line x1="911.6" y1="1103.5" x2="922.6" y2="1103.5" stroke="#1a1a1a" stroke-width="2"/><line x1="911.6" y1="1040.4" x2="922.6" y2="1040.4" stroke="#1a1a1a" stroke-width="2"/><line x1="911.6" y1="977.3" x2="922.6" y2="977.3" stroke="#1a1a1a" stroke-width="2"/><line x1="911.6" y1="914.2" x2="922.6" y2="914.2" stroke="#1a1a1a" stroke-width="2"/><line x1="911.6" y1="851.1" x2="922.6" y2="851.1" stroke="#1a1a1a" stroke-width="2"/><line x1="911.6" y1="788" x2="922.6" y2="788" stroke="#1a1a1a" stroke-width="2"/><line x1="911.6" y1="724.9" x2="922.6" y2="724.9" stroke="#1a1a1a" stroke-width="2"/><line x1="911.6" y1="1261.25" x2="917.6" y2="1261.25" stroke="#1a1a1a" stroke-width="2"/><line x1="911.6" y1="1198.15" x2="917.6" y2="1198.15" stroke="#1a1a1a" stroke-width="2"/><line x1="911.6" y1="1135.05" x2="917.6" y2="1135.05" stroke="#1a1a1a" stroke-width="2"/><line x1="911.6" y1="1071.95" x2="917.6" y2="1071.95" stroke="#1a1a1a" stroke-width="2"/><line x1="911.6" y1="1008.85" x2="917.6" y2="1008.85" stroke="#1a1a1a" stroke-width="2"/><line x1="911.6" y1="945.75" x2="917.6" y2="945.75" stroke="#1a1a1a" stroke-width="2"/><line x1="911.6" y1="882.65" x2="917.6" y2="882.65" stroke="#1a1a1a" stroke-width="2"/><line x1="911.6" y1="819.55" x2="917.6" y2="819.55" stroke="#1a1a1a" stroke-width="2"/><line x1="911.6" y1="756.45" x2="917.6" y2="756.45" stroke="#1a1a1a" stroke-width="2"/><text x="891.15 904.15 917.15" y="1328.4" font-family="'Liberation Serif','Times New Roman',serif" font-size="27" fill="#000">5.5</text><text x="1009.45 1022.45 1035.45" y="1328.4" font-family="'Liberation Serif','Times New Roman',serif" font-size="27" fill="#000">6.0</text><text x="1127.75 1140.75 1153.75" y="1328.4" font-family="'Liberation Serif','Times New Roman',serif" font-size="27" fill="#000">6.5</text><text x="1246.05 1259.05 1272.05" y="1328.4" font-family="'Liberation Serif','Times New Roman',serif" font-size="27" fill="#000">7.0</text><text x="1364.35 1377.35 1390.35" y="1328.4" font-family="'Liberation Serif','Times New Roman',serif" font-size="27" fill="#000">7.5</text><text x="1482.65 1495.65 1508.65" y="1328.4" font-family="'Liberation Serif','Times New Roman',serif" font-size="27" fill="#000">8.0</text><text x="1600.95 1613.95 1626.95" y="1328.4" font-family="'Liberation Serif','Times New Roman',serif" font-size="27" fill="#000">8.5</text><text x="884" y="1302.1" font-family="'Liberation Serif','Times New Roman',serif" font-size="27" fill="#000">0</text><text x="884" y="1239" font-family="'Liberation Serif','Times New Roman',serif" font-size="27" fill="#000">1</text><text x="884" y="1175.9" font-family="'Liberation Serif','Times New Roman',serif" font-size="27" fill="#000">2</text><text x="884" y="1112.8" font-family="'Liberation Serif','Times New Roman',serif" font-size="27" fill="#000">3</text><text x="884" y="1049.7" font-family="'Liberation Serif','Times New Roman',serif" font-size="27" fill="#000">4</text><text x="884" y="986.6" font-family="'Liberation Serif','Times New Roman',serif" font-size="27" fill="#000">5</text><text x="884" y="923.5" font-family="'Liberation Serif','Times New Roman',serif" font-size="27" fill="#000">6</text><text x="884" y="860.4" font-family="'Liberation Serif','Times New Roman',serif" font-size="27" fill="#000">7</text><text x="884" y="797.3" font-family="'Liberation Serif','Times New Roman',serif" font-size="27" fill="#000">8</text><text x="884" y="734.2" font-family="'Liberation Serif','Times New Roman',serif" font-size="27" fill="#000">9</text><text x="1313.8" y="1370.5" font-family="'Liberation Serif','Times New Roman',serif" font-size="29" font-weight="normal" fill="#000" text-anchor="middle">VEC</text><text transform="translate(872.7 993.5) rotate(-90)" font-family="'Liberation Serif','Times New Roman',serif" font-size="27" text-anchor="middle" fill="#000">&#948;</text><path d="M1523.05 737.15L1531.7 722.85L1540.35 737.15Z" fill="#000"/><path d="M1522.5 763L1537.5 754.95L1537.5 771.05Z" fill="none" stroke="#ff1a1a" stroke-width="1.1" stroke-linejoin="miter"/><path d="M1526.55 786L1542.25 794L1526.55 802Z" fill="#0000ff"/><text x="1572.7" y="741.3" font-family="'Liberation Serif','Times New Roman',serif" font-size="23.3" font-weight="normal" fill="#000" text-anchor="start">&#963;-Prone</text><text x="1572.7" y="772.4" font-family="'Liberation Serif','Times New Roman',serif" font-size="23.3" font-weight="normal" fill="#000" text-anchor="start">&#963;-Free</text><text x="1572.7" y="803.4" font-family="'Liberation Serif','Times New Roman',serif" font-size="23.3" font-weight="normal" fill="#000" text-anchor="start">CoCrFeNi</text><text x="1572.7" y="834.1" font-family="'Liberation Serif','Times New Roman',serif" font-size="23.3" font-weight="normal" fill="#000" text-anchor="start">series alloys</text></svg></body></html>
